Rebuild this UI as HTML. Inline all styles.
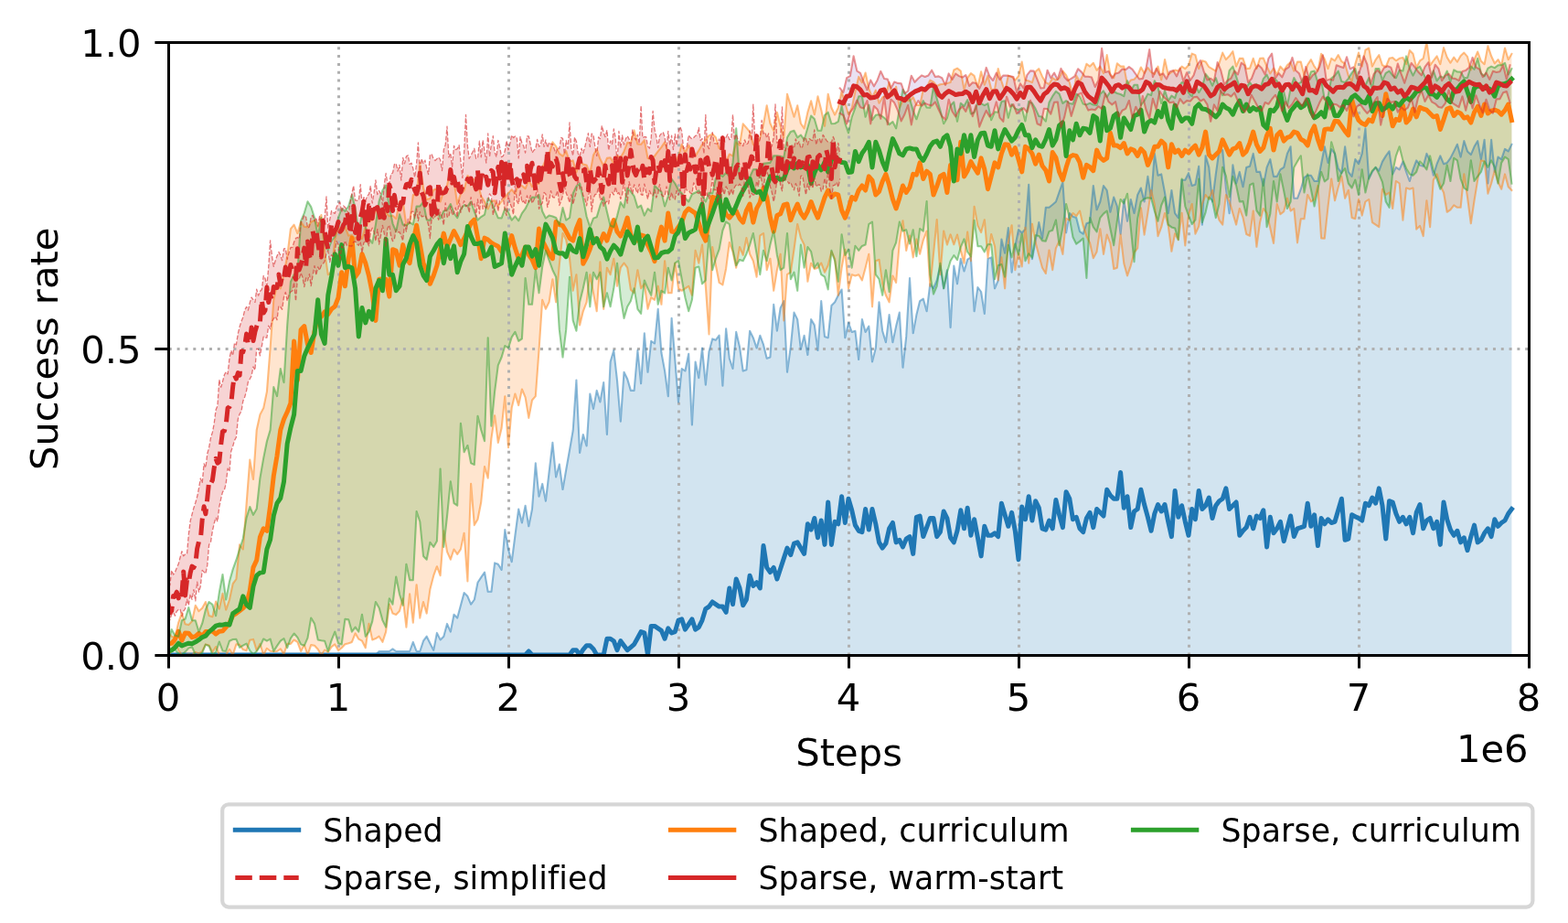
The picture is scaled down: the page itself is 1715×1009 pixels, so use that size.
<!DOCTYPE html>
<html lang="en"><head><meta charset="utf-8"><title>Success rate vs steps</title>
<style>html,body{margin:0;padding:0;background:#fff;}body{width:1715px;height:1009px;overflow:hidden;font-family:"DejaVu Sans","Liberation Sans",sans-serif;}svg{display:block;}</style>
</head><body>
<svg width="1715" height="1009" viewBox="0 0 1715 1009" font-family="'DejaVu Sans', 'Liberation Sans', sans-serif">
<rect width="1715" height="1009" fill="#ffffff"/>
<defs><clipPath id="ax"><rect x="184.0" y="46.0" width="1488.0" height="670.0"/></clipPath></defs>
<g clip-path="url(#ax)">
<polygon points="184.0,716.0 187.7,716.0 191.4,716.0 195.2,716.0 198.9,716.0 202.6,716.0 206.3,716.0 210.0,716.0 213.8,716.0 217.5,716.0 221.2,716.0 224.9,716.0 228.6,716.0 232.4,716.0 236.1,716.0 239.8,716.0 243.5,716.0 247.2,716.0 251.0,716.0 254.7,716.0 258.4,716.0 262.1,716.0 265.8,716.0 269.6,716.0 273.3,716.0 277.0,716.0 280.7,716.0 284.4,716.0 288.2,716.0 291.9,716.0 295.6,716.0 299.3,716.0 303.0,716.0 306.8,716.0 310.5,716.0 314.2,716.0 317.9,716.0 321.6,716.0 325.4,716.0 329.1,716.0 332.8,716.0 336.5,716.0 340.2,716.0 344.0,716.0 347.7,716.0 351.4,716.0 355.1,716.0 358.8,716.0 362.6,716.0 366.3,716.0 370.0,716.0 373.7,716.0 377.4,716.0 381.2,716.0 384.9,716.0 388.6,716.0 392.3,716.0 396.0,716.0 399.8,716.0 403.5,716.0 407.2,716.0 410.9,716.0 414.6,712.0 418.4,712.0 422.1,712.0 425.8,712.0 429.5,709.4 433.2,712.0 437.0,712.0 440.7,712.0 444.4,712.0 448.1,712.0 451.8,701.9 455.6,712.0 459.3,712.0 463.0,700.7 466.7,695.7 470.4,703.2 474.2,710.7 477.9,691.9 481.6,699.4 485.3,695.7 489.0,681.9 492.8,690.6 496.5,671.8 500.2,675.6 503.9,661.8 507.6,648.0 511.4,651.8 515.1,660.6 518.8,655.5 522.5,636.7 526.2,631.1 530.0,625.5 533.7,646.8 537.4,646.8 541.1,615.4 544.8,616.7 548.6,622.9 552.3,579.1 556.0,600.4 559.7,614.2 563.4,585.3 567.2,556.5 570.9,571.5 574.6,552.7 578.3,575.3 582.0,556.5 585.8,506.4 589.5,542.7 593.2,528.9 596.9,547.7 600.6,515.8 604.4,483.8 608.1,521.4 611.8,507.6 615.5,535.0 619.2,513.5 623.0,492.0 626.7,470.5 630.4,415.6 634.1,495.0 637.8,475.0 641.6,487.5 645.3,430.6 649.0,446.9 652.7,426.9 656.4,439.4 660.2,418.1 663.9,475.0 667.6,395.5 671.3,383.0 675.0,415.6 678.8,460.7 682.5,406.8 686.2,414.3 689.9,426.9 693.6,426.9 697.4,383.0 701.1,419.3 704.8,364.2 708.5,406.8 712.2,372.9 716.0,375.5 719.7,337.8 723.4,385.5 727.1,405.5 730.8,433.1 734.6,347.9 738.3,393.0 742.0,439.4 745.7,403.0 749.4,405.5 753.2,386.7 756.9,464.5 760.6,395.5 764.3,413.1 768.0,380.5 771.8,420.6 775.5,384.2 779.2,370.4 782.9,371.7 786.6,366.7 790.4,421.8 794.1,359.2 797.8,391.7 801.5,403.0 805.2,362.9 809.0,379.2 812.7,405.5 816.4,404.3 820.1,361.7 823.8,369.2 827.6,380.5 831.3,366.7 835.0,376.7 838.7,391.7 842.4,390.5 846.2,332.8 849.9,361.7 853.6,336.6 857.3,329.1 861.0,406.8 864.8,379.2 868.5,341.6 872.2,349.1 875.9,381.7 879.6,366.7 883.4,388.0 887.1,349.1 890.8,355.4 894.5,383.0 898.2,329.1 902.0,367.9 905.7,369.2 909.4,334.1 913.1,330.3 916.8,322.8 920.6,316.5 924.3,369.2 928.0,352.9 931.7,362.9 935.4,361.7 939.2,393.0 942.9,349.1 946.6,362.9 950.3,356.6 954.0,395.5 957.8,380.5 961.5,330.3 965.2,361.7 968.9,374.2 972.6,344.1 976.4,374.2 980.1,356.6 983.8,341.6 987.5,401.8 991.2,367.9 995.0,304.0 998.7,364.2 1002.4,344.1 1006.1,329.1 1009.8,326.6 1013.6,340.3 1017.3,310.3 1021.0,315.3 1024.7,306.5 1028.4,290.2 1032.2,315.3 1035.9,295.2 1039.6,357.9 1043.3,290.5 1047.0,310.3 1050.8,282.7 1054.5,296.5 1058.2,283.6 1061.9,281.4 1065.6,340.3 1069.4,314.0 1073.1,319.0 1076.8,342.9 1080.5,282.9 1084.2,281.4 1088.0,315.3 1091.7,306.5 1095.4,261.6 1099.1,276.7 1102.8,249.1 1106.6,297.7 1110.3,269.2 1114.0,251.0 1117.7,254.4 1121.4,250.6 1125.2,201.7 1128.9,283.2 1132.6,263.1 1136.3,243.1 1140.0,260.6 1143.8,226.8 1147.5,226.8 1151.2,223.7 1154.9,220.5 1158.6,209.9 1162.4,199.2 1166.1,254.4 1169.8,233.1 1173.5,236.8 1177.2,238.1 1181.0,253.1 1184.7,255.6 1188.4,244.3 1192.1,243.1 1195.8,203.0 1199.6,229.3 1203.3,220.5 1207.0,203.0 1210.7,208.0 1214.4,231.8 1218.2,215.5 1221.9,225.5 1225.6,255.6 1229.3,218.0 1233.0,241.8 1236.8,218.0 1240.5,233.1 1244.2,213.0 1247.9,205.5 1251.6,220.5 1255.4,192.9 1259.1,216.8 1262.8,167.9 1266.5,191.7 1270.2,190.4 1274.0,210.5 1277.7,233.1 1281.4,208.0 1285.1,233.1 1288.8,238.1 1292.6,196.7 1296.3,196.7 1300.0,189.2 1303.7,203.0 1307.4,201.7 1311.2,181.7 1314.9,245.6 1318.6,170.4 1322.3,182.9 1326.0,220.5 1329.8,190.4 1333.5,164.1 1337.2,164.1 1340.9,205.5 1344.6,233.1 1348.4,180.4 1352.1,200.5 1355.8,187.9 1359.5,204.2 1363.2,182.9 1367.0,181.7 1370.7,167.9 1374.4,187.9 1378.1,187.9 1381.8,203.0 1385.6,182.9 1389.3,174.1 1393.0,192.9 1396.7,192.9 1400.4,185.4 1404.2,182.9 1407.9,167.9 1411.6,160.3 1415.3,216.8 1419.0,216.8 1422.8,206.7 1426.5,194.2 1430.2,191.7 1433.9,191.7 1437.6,198.0 1441.4,198.0 1445.1,179.2 1448.8,160.3 1452.5,177.9 1456.2,162.9 1460.0,167.9 1463.7,184.2 1467.4,189.2 1471.1,160.3 1474.8,187.9 1478.6,192.9 1482.3,174.1 1486.0,179.2 1489.7,167.9 1493.4,140.3 1497.2,195.5 1500.9,187.9 1504.6,182.9 1508.3,186.7 1512.0,176.6 1515.8,170.4 1519.5,165.4 1523.2,190.4 1526.9,182.9 1530.6,185.4 1534.4,176.6 1538.1,187.9 1541.8,198.0 1545.5,185.4 1549.2,175.4 1553.0,180.4 1556.7,181.7 1560.4,167.9 1564.1,175.4 1567.8,191.7 1571.6,179.2 1575.3,170.4 1579.0,179.2 1582.7,177.9 1586.4,172.9 1590.2,165.4 1593.9,157.8 1597.6,171.6 1601.3,154.1 1605.0,165.4 1608.8,169.1 1612.5,160.3 1616.2,154.1 1619.9,174.1 1623.6,152.8 1627.4,200.5 1631.1,152.8 1634.8,187.9 1638.5,171.6 1642.2,174.1 1646.0,162.9 1649.7,165.4 1653.4,157.8 1653.4,716.0 1649.7,716.0 1646.0,716.0 1642.2,716.0 1638.5,716.0 1634.8,716.0 1631.1,716.0 1627.4,716.0 1623.6,716.0 1619.9,716.0 1616.2,716.0 1612.5,716.0 1608.8,716.0 1605.0,716.0 1601.3,716.0 1597.6,716.0 1593.9,716.0 1590.2,716.0 1586.4,716.0 1582.7,716.0 1579.0,716.0 1575.3,716.0 1571.6,716.0 1567.8,716.0 1564.1,716.0 1560.4,716.0 1556.7,716.0 1553.0,716.0 1549.2,716.0 1545.5,716.0 1541.8,716.0 1538.1,716.0 1534.4,716.0 1530.6,716.0 1526.9,716.0 1523.2,716.0 1519.5,716.0 1515.8,716.0 1512.0,716.0 1508.3,716.0 1504.6,716.0 1500.9,716.0 1497.2,716.0 1493.4,716.0 1489.7,716.0 1486.0,716.0 1482.3,716.0 1478.6,716.0 1474.8,716.0 1471.1,716.0 1467.4,716.0 1463.7,716.0 1460.0,716.0 1456.2,716.0 1452.5,716.0 1448.8,716.0 1445.1,716.0 1441.4,716.0 1437.6,716.0 1433.9,716.0 1430.2,716.0 1426.5,716.0 1422.8,716.0 1419.0,716.0 1415.3,716.0 1411.6,716.0 1407.9,716.0 1404.2,716.0 1400.4,716.0 1396.7,716.0 1393.0,716.0 1389.3,716.0 1385.6,716.0 1381.8,716.0 1378.1,716.0 1374.4,716.0 1370.7,716.0 1367.0,716.0 1363.2,716.0 1359.5,716.0 1355.8,716.0 1352.1,716.0 1348.4,716.0 1344.6,716.0 1340.9,716.0 1337.2,716.0 1333.5,716.0 1329.8,716.0 1326.0,716.0 1322.3,716.0 1318.6,716.0 1314.9,716.0 1311.2,716.0 1307.4,716.0 1303.7,716.0 1300.0,716.0 1296.3,716.0 1292.6,716.0 1288.8,716.0 1285.1,716.0 1281.4,716.0 1277.7,716.0 1274.0,716.0 1270.2,716.0 1266.5,716.0 1262.8,716.0 1259.1,716.0 1255.4,716.0 1251.6,716.0 1247.9,716.0 1244.2,716.0 1240.5,716.0 1236.8,716.0 1233.0,716.0 1229.3,716.0 1225.6,716.0 1221.9,716.0 1218.2,716.0 1214.4,716.0 1210.7,716.0 1207.0,716.0 1203.3,716.0 1199.6,716.0 1195.8,716.0 1192.1,716.0 1188.4,716.0 1184.7,716.0 1181.0,716.0 1177.2,716.0 1173.5,716.0 1169.8,716.0 1166.1,716.0 1162.4,716.0 1158.6,716.0 1154.9,716.0 1151.2,716.0 1147.5,716.0 1143.8,716.0 1140.0,716.0 1136.3,716.0 1132.6,716.0 1128.9,716.0 1125.2,716.0 1121.4,716.0 1117.7,716.0 1114.0,716.0 1110.3,716.0 1106.6,716.0 1102.8,716.0 1099.1,716.0 1095.4,716.0 1091.7,716.0 1088.0,716.0 1084.2,716.0 1080.5,716.0 1076.8,716.0 1073.1,716.0 1069.4,716.0 1065.6,716.0 1061.9,716.0 1058.2,716.0 1054.5,716.0 1050.8,716.0 1047.0,716.0 1043.3,716.0 1039.6,716.0 1035.9,716.0 1032.2,716.0 1028.4,716.0 1024.7,716.0 1021.0,716.0 1017.3,716.0 1013.6,716.0 1009.8,716.0 1006.1,716.0 1002.4,716.0 998.7,716.0 995.0,716.0 991.2,716.0 987.5,716.0 983.8,716.0 980.1,716.0 976.4,716.0 972.6,716.0 968.9,716.0 965.2,716.0 961.5,716.0 957.8,716.0 954.0,716.0 950.3,716.0 946.6,716.0 942.9,716.0 939.2,716.0 935.4,716.0 931.7,716.0 928.0,716.0 924.3,716.0 920.6,716.0 916.8,716.0 913.1,716.0 909.4,716.0 905.7,716.0 902.0,716.0 898.2,716.0 894.5,716.0 890.8,716.0 887.1,716.0 883.4,716.0 879.6,716.0 875.9,716.0 872.2,716.0 868.5,716.0 864.8,716.0 861.0,716.0 857.3,716.0 853.6,716.0 849.9,716.0 846.2,716.0 842.4,716.0 838.7,716.0 835.0,716.0 831.3,716.0 827.6,716.0 823.8,716.0 820.1,716.0 816.4,716.0 812.7,716.0 809.0,716.0 805.2,716.0 801.5,716.0 797.8,716.0 794.1,716.0 790.4,716.0 786.6,716.0 782.9,716.0 779.2,716.0 775.5,716.0 771.8,716.0 768.0,716.0 764.3,716.0 760.6,716.0 756.9,716.0 753.2,716.0 749.4,716.0 745.7,716.0 742.0,716.0 738.3,716.0 734.6,716.0 730.8,716.0 727.1,716.0 723.4,716.0 719.7,716.0 716.0,716.0 712.2,716.0 708.5,716.0 704.8,716.0 701.1,716.0 697.4,716.0 693.6,716.0 689.9,716.0 686.2,716.0 682.5,716.0 678.8,716.0 675.0,716.0 671.3,716.0 667.6,716.0 663.9,716.0 660.2,716.0 656.4,716.0 652.7,716.0 649.0,716.0 645.3,716.0 641.6,716.0 637.8,716.0 634.1,716.0 630.4,716.0 626.7,716.0 623.0,716.0 619.2,716.0 615.5,716.0 611.8,716.0 608.1,716.0 604.4,716.0 600.6,716.0 596.9,716.0 593.2,716.0 589.5,716.0 585.8,716.0 582.0,716.0 578.3,716.0 574.6,716.0 570.9,716.0 567.2,716.0 563.4,716.0 559.7,716.0 556.0,716.0 552.3,716.0 548.6,716.0 544.8,716.0 541.1,716.0 537.4,716.0 533.7,716.0 530.0,716.0 526.2,716.0 522.5,716.0 518.8,716.0 515.1,716.0 511.4,716.0 507.6,716.0 503.9,716.0 500.2,716.0 496.5,716.0 492.8,716.0 489.0,716.0 485.3,716.0 481.6,716.0 477.9,716.0 474.2,716.0 470.4,716.0 466.7,716.0 463.0,716.0 459.3,716.0 455.6,716.0 451.8,716.0 448.1,716.0 444.4,716.0 440.7,716.0 437.0,716.0 433.2,716.0 429.5,716.0 425.8,716.0 422.1,716.0 418.4,716.0 414.6,716.0 410.9,716.0 407.2,716.0 403.5,716.0 399.8,716.0 396.0,716.0 392.3,716.0 388.6,716.0 384.9,716.0 381.2,716.0 377.4,716.0 373.7,716.0 370.0,716.0 366.3,716.0 362.6,716.0 358.8,716.0 355.1,716.0 351.4,716.0 347.7,716.0 344.0,716.0 340.2,716.0 336.5,716.0 332.8,716.0 329.1,716.0 325.4,716.0 321.6,716.0 317.9,716.0 314.2,716.0 310.5,716.0 306.8,716.0 303.0,716.0 299.3,716.0 295.6,716.0 291.9,716.0 288.2,716.0 284.4,716.0 280.7,716.0 277.0,716.0 273.3,716.0 269.6,716.0 265.8,716.0 262.1,716.0 258.4,716.0 254.7,716.0 251.0,716.0 247.2,716.0 243.5,716.0 239.8,716.0 236.1,716.0 232.4,716.0 228.6,716.0 224.9,716.0 221.2,716.0 217.5,716.0 213.8,716.0 210.0,716.0 206.3,716.0 202.6,716.0 198.9,716.0 195.2,716.0 191.4,716.0 187.7,716.0 184.0,716.0" fill="#1f77b4" fill-opacity="0.2"/>
<polygon points="184.0,691.1 187.7,695.7 191.4,697.1 195.2,680.6 198.9,670.0 202.6,682.2 206.3,683.1 210.0,679.1 213.8,661.8 217.5,668.1 221.2,664.7 224.9,658.0 228.6,673.1 232.4,674.2 236.1,657.6 239.8,665.6 243.5,648.8 247.2,666.6 251.0,655.5 254.7,638.1 258.4,633.0 262.1,595.4 265.8,600.4 269.6,550.7 273.3,502.6 277.0,523.9 280.7,470.0 284.4,453.2 288.2,446.1 291.9,428.1 295.6,380.5 299.3,327.8 303.0,311.2 306.8,315.3 310.5,299.0 314.2,280.2 317.9,250.1 321.6,245.7 325.4,255.1 329.1,242.6 332.8,247.8 336.5,248.5 340.2,242.6 344.0,240.8 347.7,247.6 351.4,235.0 355.1,275.2 358.8,300.2 362.6,297.1 366.3,261.6 370.0,247.6 373.7,254.1 377.4,247.6 381.2,257.6 384.9,256.9 388.6,261.4 392.3,255.1 396.0,260.9 399.8,247.6 403.5,242.2 407.2,240.3 410.9,227.8 414.6,236.8 418.4,232.1 422.1,232.3 425.8,236.2 429.5,235.6 433.2,239.1 437.0,220.1 440.7,220.5 444.4,246.2 448.1,243.1 451.8,213.1 455.6,212.6 459.3,177.9 463.0,205.4 466.7,218.0 470.4,216.9 474.2,207.5 477.9,206.5 481.6,220.5 485.3,208.3 489.0,202.7 492.8,185.4 496.5,197.0 500.2,223.0 503.9,211.9 507.6,208.2 511.4,192.0 515.1,195.5 518.8,196.3 522.5,199.6 526.2,214.2 530.0,220.5 533.7,228.4 537.4,219.9 541.1,219.2 544.8,225.1 548.6,220.0 552.3,215.5 556.0,211.1 559.7,207.1 563.4,211.8 567.2,200.5 570.9,203.0 574.6,206.1 578.3,196.7 582.0,204.0 585.8,200.5 589.5,200.9 593.2,183.0 596.9,174.7 600.6,168.6 604.4,155.3 608.1,159.8 611.8,167.9 615.5,170.6 619.2,165.2 623.0,176.6 626.7,175.4 630.4,188.2 634.1,176.7 637.8,179.5 641.6,180.4 645.3,189.6 649.0,169.5 652.7,162.9 656.4,173.8 660.2,181.3 663.9,172.9 667.6,172.3 671.3,178.4 675.0,170.3 678.8,172.2 682.5,165.4 686.2,155.9 689.9,156.3 693.6,142.4 697.4,157.5 701.1,157.8 704.8,153.2 708.5,172.7 712.2,174.2 716.0,170.4 719.7,165.3 723.4,160.9 727.1,155.3 730.8,165.9 734.6,180.4 738.3,177.2 742.0,170.9 745.7,157.8 749.4,166.8 753.2,158.7 756.9,166.1 760.6,170.4 764.3,164.4 768.0,157.8 771.8,152.8 775.5,148.1 779.2,146.6 782.9,150.3 786.6,162.1 790.4,160.3 794.1,177.0 797.8,168.5 801.5,170.4 805.2,155.6 809.0,158.6 812.7,135.3 816.4,139.7 820.1,144.2 823.8,157.8 827.6,161.1 831.3,150.3 835.0,135.8 838.7,115.2 842.4,134.8 846.2,142.8 849.9,122.7 853.6,137.7 857.3,150.3 861.0,102.7 864.8,115.4 868.5,127.8 872.2,115.2 875.9,135.0 879.6,140.3 883.4,122.6 887.1,110.2 890.8,125.2 894.5,105.2 898.2,119.9 902.0,137.8 905.7,102.7 909.4,117.7 913.1,125.5 916.8,117.7 920.6,100.2 924.3,112.4 928.0,125.2 931.7,117.7 935.4,100.2 939.2,83.9 942.9,90.1 946.6,79.5 950.3,96.8 954.0,106.4 957.8,98.6 961.5,112.7 965.2,106.5 968.9,103.8 972.6,90.1 976.4,104.6 980.1,94.7 983.8,117.5 987.5,110.2 991.2,109.8 995.0,110.3 998.7,106.2 1002.4,114.8 1006.1,115.2 1009.8,97.7 1013.6,95.6 1017.3,87.6 1021.0,89.6 1024.7,94.0 1028.4,92.3 1032.2,91.7 1035.9,91.1 1039.6,90.1 1043.3,76.5 1047.0,74.6 1050.8,77.6 1054.5,97.7 1058.2,85.1 1061.9,80.1 1065.6,82.9 1069.4,95.2 1073.1,78.2 1076.8,92.7 1080.5,82.6 1084.2,97.6 1088.0,97.7 1091.7,75.1 1095.4,88.8 1099.1,100.2 1102.8,82.6 1106.6,84.1 1110.3,87.6 1114.0,83.3 1117.7,67.6 1121.4,87.6 1125.2,88.5 1128.9,90.1 1132.6,78.2 1136.3,75.1 1140.0,83.7 1143.8,90.1 1147.5,92.2 1151.2,85.1 1154.9,87.6 1158.6,85.4 1162.4,77.6 1166.1,82.1 1169.8,90.1 1173.5,106.0 1177.2,82.6 1181.0,89.2 1184.7,81.4 1188.4,69.7 1192.1,72.6 1195.8,68.8 1199.6,76.7 1203.3,72.6 1207.0,80.1 1210.7,60.1 1214.4,81.4 1218.2,85.2 1221.9,69.2 1225.6,72.6 1229.3,72.6 1233.0,92.6 1236.8,87.6 1240.5,86.7 1244.2,82.6 1247.9,73.5 1251.6,80.1 1255.4,73.8 1259.1,78.9 1262.8,80.9 1266.5,72.6 1270.2,87.2 1274.0,65.1 1277.7,81.3 1281.4,78.9 1285.1,76.5 1288.8,77.6 1292.6,72.6 1296.3,75.1 1300.0,71.3 1303.7,58.6 1307.4,60.1 1311.2,75.1 1314.9,66.3 1318.6,67.4 1322.3,73.2 1326.0,75.3 1329.8,77.6 1333.5,69.0 1337.2,57.6 1340.9,65.1 1344.6,61.3 1348.4,56.2 1352.1,72.6 1355.8,63.8 1359.5,63.9 1363.2,75.1 1367.0,74.6 1370.7,63.8 1374.4,75.1 1378.1,63.8 1381.8,63.5 1385.6,72.6 1389.3,80.3 1393.0,74.5 1396.7,81.4 1400.4,72.6 1404.2,77.0 1407.9,71.3 1411.6,68.0 1415.3,77.6 1419.0,67.6 1422.8,67.6 1426.5,82.6 1430.2,70.7 1433.9,65.1 1437.6,72.7 1441.4,77.6 1445.1,58.8 1448.8,64.6 1452.5,75.1 1456.2,63.8 1460.0,66.3 1463.7,60.1 1467.4,67.2 1471.1,69.5 1474.8,82.6 1478.6,88.8 1482.3,70.1 1486.0,57.6 1489.7,72.6 1493.4,54.6 1497.2,52.5 1500.9,72.6 1504.6,65.3 1508.3,60.1 1512.0,71.3 1515.8,73.0 1519.5,63.8 1523.2,62.9 1526.9,66.3 1530.6,63.8 1534.4,62.9 1538.1,70.1 1541.8,55.0 1545.5,58.8 1549.2,73.8 1553.0,66.4 1556.7,63.8 1560.4,46.0 1564.1,71.3 1567.8,66.3 1571.6,61.4 1575.3,70.1 1579.0,52.1 1582.7,62.6 1586.4,68.6 1590.2,62.6 1593.9,67.6 1597.6,61.1 1601.3,57.6 1605.0,61.9 1608.8,76.4 1612.5,65.1 1616.2,56.5 1619.9,66.8 1623.6,70.1 1627.4,50.2 1631.1,61.3 1634.8,69.3 1638.5,65.1 1642.2,71.4 1646.0,52.5 1649.7,65.1 1653.4,58.8 1653.4,208.0 1649.7,204.2 1646.0,190.4 1642.2,206.7 1638.5,199.2 1634.8,186.7 1631.1,200.5 1627.4,211.7 1623.6,176.6 1619.9,175.4 1616.2,196.7 1612.5,219.3 1608.8,244.3 1605.0,215.5 1601.3,190.4 1597.6,226.8 1593.9,226.8 1590.2,224.3 1586.4,229.3 1582.7,231.8 1579.0,210.5 1575.3,203.0 1571.6,190.4 1567.8,196.7 1564.1,248.1 1560.4,219.3 1556.7,258.1 1553.0,246.9 1549.2,250.6 1545.5,205.5 1541.8,206.7 1538.1,205.5 1534.4,240.6 1530.6,200.5 1526.9,198.0 1523.2,228.0 1519.5,210.5 1515.8,213.0 1512.0,206.7 1508.3,248.1 1504.6,245.6 1500.9,243.1 1497.2,218.0 1493.4,220.5 1489.7,235.6 1486.0,218.0 1482.3,239.3 1478.6,238.1 1474.8,208.0 1471.1,216.8 1467.4,192.9 1463.7,204.7 1460.0,219.3 1456.2,195.5 1452.5,226.1 1448.8,260.6 1445.1,260.4 1441.4,203.0 1437.6,218.0 1433.9,220.4 1430.2,213.0 1426.5,239.3 1422.8,239.3 1419.0,265.4 1415.3,228.0 1411.6,230.6 1407.9,216.8 1404.2,231.2 1400.4,234.3 1396.7,223.0 1393.0,266.0 1389.3,249.6 1385.6,233.1 1381.8,228.0 1378.1,243.0 1374.4,269.8 1370.7,230.6 1367.0,257.8 1363.2,256.0 1359.5,238.0 1355.8,228.0 1352.1,245.6 1348.4,233.1 1344.6,220.3 1340.9,213.0 1337.2,245.6 1333.5,240.6 1329.8,228.9 1326.0,208.0 1322.3,218.0 1318.6,213.0 1314.9,223.0 1311.2,247.5 1307.4,255.6 1303.7,223.0 1300.0,235.3 1296.3,268.5 1292.6,232.8 1288.8,262.3 1285.1,255.4 1281.4,274.8 1277.7,246.3 1274.0,233.1 1270.2,248.4 1266.5,258.1 1262.8,223.5 1259.1,208.0 1255.4,232.8 1251.6,256.6 1247.9,227.2 1244.2,271.4 1240.5,276.0 1236.8,290.3 1233.0,301.5 1229.3,288.0 1225.6,256.6 1221.9,292.7 1218.2,294.0 1214.4,266.1 1210.7,256.6 1207.0,277.9 1203.3,250.3 1199.6,275.2 1195.8,282.3 1192.1,265.7 1188.4,258.1 1184.7,246.9 1181.0,230.6 1177.2,236.3 1173.5,233.1 1169.8,240.9 1166.1,238.8 1162.4,277.9 1158.6,263.5 1154.9,271.4 1151.2,295.2 1147.5,273.5 1143.8,299.0 1140.0,292.7 1136.3,279.2 1132.6,265.1 1128.9,244.7 1125.2,287.7 1121.4,248.8 1117.7,291.5 1114.0,276.7 1110.3,295.2 1106.6,246.3 1102.8,265.4 1099.1,315.3 1095.4,281.4 1091.7,306.5 1088.0,269.2 1084.2,256.0 1080.5,281.7 1076.8,240.3 1073.1,254.1 1069.4,246.6 1065.6,225.9 1061.9,285.2 1058.2,253.5 1054.5,287.7 1050.8,273.9 1047.0,256.6 1043.3,267.3 1039.6,256.4 1035.9,267.6 1032.2,252.6 1028.4,300.2 1024.7,240.1 1021.0,277.7 1017.3,312.8 1013.6,252.6 1009.8,262.6 1006.1,277.7 1002.4,261.4 998.7,281.4 995.0,257.6 991.2,273.9 987.5,241.3 983.8,265.1 980.1,309.0 976.4,301.5 972.6,330.3 968.9,322.8 965.2,310.3 961.5,283.9 957.8,285.2 954.0,335.3 950.3,277.7 946.6,292.7 942.9,306.5 939.2,300.2 935.4,301.5 931.7,300.2 928.0,315.3 924.3,272.7 920.6,292.7 916.8,322.8 913.1,282.7 909.4,275.2 905.7,290.2 902.0,297.7 898.2,287.7 894.5,292.7 890.8,294.0 887.1,287.7 883.4,307.8 879.6,267.6 875.9,260.1 872.2,245.1 868.5,272.7 864.8,297.7 861.0,300.2 857.3,350.4 853.6,277.7 849.9,295.2 846.2,317.8 842.4,282.7 838.7,295.2 835.0,255.1 831.3,257.6 827.6,302.7 823.8,285.2 820.1,277.7 816.4,260.1 812.7,278.9 809.0,270.1 805.2,292.7 801.5,275.2 797.8,265.1 794.1,293.7 790.4,311.5 786.6,309.0 782.9,290.2 779.2,270.1 775.5,365.4 771.8,312.8 768.0,267.6 764.3,287.7 760.6,273.9 756.9,322.8 753.2,312.8 749.4,315.3 745.7,317.8 742.0,315.3 738.3,287.7 734.6,320.3 730.8,320.3 727.1,285.2 723.4,332.8 719.7,312.8 716.0,327.8 712.2,325.3 708.5,337.8 704.8,310.3 701.1,315.3 697.4,295.2 693.6,320.3 689.9,316.8 686.2,292.7 682.5,287.7 678.8,292.7 675.0,312.8 671.3,282.7 667.6,300.2 663.9,292.7 660.2,337.8 656.4,286.4 652.7,340.3 649.0,320.3 645.3,300.2 641.6,330.3 637.8,340.3 634.1,355.4 630.4,300.2 626.7,317.8 623.0,282.7 619.2,262.2 615.5,255.1 611.8,289.7 608.1,330.3 604.4,305.2 600.6,330.3 596.9,337.8 593.2,327.8 589.5,383.0 585.8,433.1 582.0,437.5 578.3,456.9 574.6,434.4 570.9,425.5 567.2,443.1 563.4,430.6 559.7,445.7 556.0,489.2 552.3,433.2 548.6,468.0 544.8,483.9 541.1,454.2 537.4,479.4 533.7,522.7 530.0,510.1 526.2,549.0 522.5,567.7 518.8,574.1 515.1,528.9 511.4,635.5 507.6,582.8 503.9,600.4 500.2,605.8 496.5,600.5 492.8,611.7 489.0,603.1 485.3,580.3 481.6,629.2 477.9,619.2 474.2,629.4 470.4,644.3 466.7,670.6 463.0,658.0 459.3,675.6 455.6,639.2 451.8,680.6 448.1,649.3 444.4,685.6 440.7,654.3 437.0,668.1 433.2,671.9 429.5,670.6 425.8,660.6 422.1,690.6 418.4,701.8 414.6,695.7 410.9,698.1 407.2,699.4 403.5,681.9 399.8,708.2 396.0,700.7 392.3,698.7 388.6,692.4 384.9,701.9 381.2,703.2 377.4,704.2 373.7,708.2 370.0,711.1 366.3,704.4 362.6,707.1 358.8,712.8 355.1,710.7 351.4,716.0 347.7,709.7 344.0,705.7 340.2,705.1 336.5,716.0 332.8,705.2 329.1,712.0 325.4,701.9 321.6,699.5 317.9,703.9 314.2,703.8 310.5,715.1 306.8,709.4 303.0,712.0 299.3,712.2 295.6,711.7 291.9,708.8 288.2,716.0 284.4,703.9 280.7,711.3 277.0,698.9 273.3,699.8 269.6,711.2 265.8,710.1 262.1,704.8 258.4,704.4 254.7,716.0 251.0,709.9 247.2,716.0 243.5,716.0 239.8,716.0 236.1,707.0 232.4,712.9 228.6,705.6 224.9,704.4 221.2,712.0 217.5,714.4 213.8,712.9 210.0,716.0 206.3,715.3 202.6,716.0 198.9,716.0 195.2,710.9 191.4,701.1 187.7,712.0 184.0,716.0" fill="#ff7f0e" fill-opacity="0.2"/>
<polygon points="184.0,702.4 187.7,688.1 191.4,694.8 195.2,695.7 198.9,678.1 202.6,676.6 206.3,664.0 210.0,678.1 213.8,678.3 217.5,690.6 221.2,681.4 224.9,666.4 228.6,658.0 232.4,660.9 236.1,673.1 239.8,647.8 243.5,628.0 247.2,655.5 251.0,635.5 254.7,622.4 258.4,612.2 262.1,600.4 265.8,588.7 269.6,565.9 273.3,554.0 277.0,562.8 280.7,556.3 284.4,522.7 288.2,500.9 291.9,482.5 295.6,470.0 299.3,423.1 303.0,433.1 306.8,403.0 310.5,418.1 314.2,355.4 317.9,308.0 321.6,300.2 325.4,297.7 329.1,241.6 332.8,232.9 336.5,220.3 340.2,226.1 344.0,238.1 347.7,258.1 351.4,238.1 355.1,265.5 358.8,273.2 362.6,263.3 366.3,258.4 370.0,237.9 373.7,228.0 377.4,230.9 381.2,225.5 384.9,213.0 388.6,227.6 392.3,253.1 396.0,233.2 399.8,248.1 403.5,260.3 407.2,265.7 410.9,245.6 414.6,220.0 418.4,208.0 422.1,202.5 425.8,225.5 429.5,244.3 433.2,253.1 437.0,234.3 440.7,245.6 444.4,246.6 448.1,243.1 451.8,245.4 455.6,225.5 459.3,225.5 463.0,220.5 466.7,240.4 470.4,240.6 474.2,231.7 477.9,228.0 481.6,238.6 485.3,230.8 489.0,229.6 492.8,223.0 496.5,233.0 500.2,238.1 503.9,228.3 507.6,224.1 511.4,225.5 515.1,220.3 518.8,231.4 522.5,240.6 526.2,237.1 530.0,234.6 533.7,216.8 537.4,220.5 541.1,229.3 544.8,238.1 548.6,238.4 552.3,228.0 556.0,232.1 559.7,240.6 563.4,236.4 567.2,241.3 570.9,233.1 574.6,228.2 578.3,220.6 582.0,215.5 585.8,215.8 589.5,213.0 593.2,231.0 596.9,238.5 600.6,235.6 604.4,236.5 608.1,238.0 611.8,245.6 615.5,227.1 619.2,240.6 623.0,238.0 626.7,211.4 630.4,203.6 634.1,200.5 637.8,216.6 641.6,236.7 645.3,248.1 649.0,238.6 652.7,237.2 656.4,224.7 660.2,215.5 663.9,231.6 667.6,246.8 671.3,248.1 675.0,236.1 678.8,221.1 682.5,226.7 686.2,205.5 689.9,209.4 693.6,214.3 697.4,226.9 701.1,224.6 704.8,235.6 708.5,228.1 712.2,231.1 716.0,203.0 719.7,206.6 723.4,209.8 727.1,225.5 730.8,214.2 734.6,195.5 738.3,200.5 742.0,207.8 745.7,211.3 749.4,216.5 753.2,220.5 756.9,212.3 760.6,210.5 764.3,208.4 768.0,213.8 771.8,220.5 775.5,210.7 779.2,211.5 782.9,195.1 786.6,190.4 790.4,193.0 794.1,188.7 797.8,192.9 801.5,177.9 805.2,140.3 809.0,195.5 812.7,193.9 816.4,196.3 820.1,193.5 823.8,185.4 827.6,185.0 831.3,193.7 835.0,178.9 838.7,178.4 842.4,177.9 846.2,170.3 849.9,170.4 853.6,170.8 857.3,172.2 861.0,150.3 864.8,143.9 868.5,142.8 872.2,150.3 875.9,147.5 879.6,152.8 883.4,139.5 887.1,126.5 890.8,130.0 894.5,142.8 898.2,142.8 902.0,126.0 905.7,122.7 909.4,135.3 913.1,135.0 916.8,132.8 920.6,115.2 924.3,134.6 928.0,145.3 931.7,127.8 935.4,117.8 939.2,105.2 942.9,105.2 946.6,127.8 950.3,114.8 954.0,131.1 957.8,125.8 961.5,125.2 965.2,127.3 968.9,130.3 972.6,136.1 976.4,133.0 980.1,140.3 983.8,119.3 987.5,97.7 991.2,104.5 995.0,108.1 998.7,120.8 1002.4,130.3 1006.1,119.1 1009.8,110.2 1013.6,117.4 1017.3,117.8 1021.0,94.7 1024.7,107.7 1028.4,120.6 1032.2,135.3 1035.9,129.0 1039.6,115.2 1043.3,111.6 1047.0,132.8 1050.8,112.7 1054.5,116.0 1058.2,109.1 1061.9,124.5 1065.6,122.7 1069.4,112.2 1073.1,113.1 1076.8,115.2 1080.5,113.1 1084.2,131.2 1088.0,122.3 1091.7,122.7 1095.4,111.0 1099.1,110.2 1102.8,128.8 1106.6,114.0 1110.3,118.6 1114.0,120.2 1117.7,118.1 1121.4,132.4 1125.2,110.9 1128.9,112.7 1132.6,118.8 1136.3,127.1 1140.0,127.8 1143.8,132.6 1147.5,111.9 1151.2,105.2 1154.9,99.9 1158.6,102.6 1162.4,112.9 1166.1,110.2 1169.8,113.0 1173.5,113.7 1177.2,102.7 1181.0,105.4 1184.7,113.6 1188.4,114.4 1192.1,112.7 1195.8,114.5 1199.6,115.0 1203.3,102.7 1207.0,99.4 1210.7,106.0 1214.4,100.2 1218.2,100.0 1221.9,102.0 1225.6,103.0 1229.3,105.2 1233.0,88.2 1236.8,99.4 1240.5,92.7 1244.2,92.8 1247.9,114.8 1251.6,110.2 1255.4,102.6 1259.1,104.1 1262.8,88.2 1266.5,95.2 1270.2,113.0 1274.0,98.9 1277.7,110.2 1281.4,104.6 1285.1,107.1 1288.8,95.5 1292.6,90.1 1296.3,91.2 1300.0,101.5 1303.7,105.2 1307.4,92.4 1311.2,101.1 1314.9,95.2 1318.6,80.8 1322.3,85.4 1326.0,93.7 1329.8,85.1 1333.5,95.9 1337.2,104.2 1340.9,97.7 1344.6,77.2 1348.4,72.6 1352.1,83.7 1355.8,95.2 1359.5,95.4 1363.2,95.6 1367.0,90.1 1370.7,94.8 1374.4,91.9 1378.1,97.7 1381.8,86.1 1385.6,81.6 1389.3,90.1 1393.0,84.9 1396.7,88.4 1400.4,99.4 1404.2,100.2 1407.9,115.6 1411.6,96.6 1415.3,85.1 1419.0,91.8 1422.8,90.1 1426.5,84.1 1430.2,90.1 1433.9,78.5 1437.6,77.6 1441.4,90.1 1445.1,87.1 1448.8,108.7 1452.5,105.2 1456.2,85.6 1460.0,82.6 1463.7,77.6 1467.4,89.1 1471.1,90.1 1474.8,85.9 1478.6,79.6 1482.3,75.1 1486.0,89.8 1489.7,92.7 1493.4,93.2 1497.2,85.1 1500.9,96.4 1504.6,75.1 1508.3,75.0 1512.0,87.6 1515.8,79.8 1519.5,77.6 1523.2,82.3 1526.9,85.1 1530.6,76.8 1534.4,77.6 1538.1,61.4 1541.8,74.7 1545.5,82.6 1549.2,75.1 1553.0,72.7 1556.7,80.1 1560.4,87.9 1564.1,87.6 1567.8,77.3 1571.6,88.3 1575.3,83.4 1579.0,84.9 1582.7,77.6 1586.4,89.1 1590.2,76.4 1593.9,78.5 1597.6,78.6 1601.3,85.1 1605.0,84.9 1608.8,72.6 1612.5,75.8 1616.2,63.8 1619.9,80.1 1623.6,83.3 1627.4,74.7 1631.1,72.6 1634.8,74.1 1638.5,71.3 1642.2,71.2 1646.0,68.8 1649.7,81.4 1653.4,75.1 1653.4,200.5 1649.7,174.1 1646.0,171.6 1642.2,177.9 1638.5,200.5 1634.8,182.9 1631.1,175.4 1627.4,182.9 1623.6,176.6 1619.9,187.9 1616.2,192.9 1612.5,198.0 1608.8,175.4 1605.0,208.0 1601.3,205.5 1597.6,195.5 1593.9,175.4 1590.2,172.9 1586.4,198.0 1582.7,180.4 1579.0,200.5 1575.3,206.7 1571.6,195.5 1567.8,186.7 1564.1,170.4 1560.4,185.4 1556.7,180.4 1553.0,176.6 1549.2,187.9 1545.5,191.7 1541.8,190.4 1538.1,184.2 1534.4,175.4 1530.6,160.3 1526.9,170.4 1523.2,187.9 1519.5,226.8 1515.8,220.5 1512.0,199.2 1508.3,190.4 1504.6,182.9 1500.9,186.7 1497.2,194.2 1493.4,210.5 1489.7,185.4 1486.0,213.0 1482.3,196.7 1478.6,205.5 1474.8,200.5 1471.1,184.2 1467.4,188.8 1463.7,198.0 1460.0,168.4 1456.2,155.3 1452.5,195.5 1448.8,198.5 1445.1,187.9 1441.4,207.0 1437.6,225.5 1433.9,207.0 1430.2,190.4 1426.5,210.5 1422.8,170.4 1419.0,176.4 1415.3,182.9 1411.6,220.5 1407.9,228.0 1404.2,208.8 1400.4,190.4 1396.7,220.5 1393.0,198.0 1389.3,233.7 1385.6,248.1 1381.8,195.5 1378.1,235.6 1374.4,230.1 1370.7,200.5 1367.0,202.3 1363.2,235.6 1359.5,220.1 1355.8,220.5 1352.1,202.9 1348.4,192.9 1344.6,215.5 1340.9,192.3 1337.2,182.9 1333.5,223.0 1329.8,238.1 1326.0,219.3 1322.3,215.5 1318.6,232.1 1314.9,243.1 1311.2,195.5 1307.4,240.3 1303.7,245.1 1300.0,235.6 1296.3,225.5 1292.6,195.5 1288.8,261.9 1285.1,249.4 1281.4,248.4 1277.7,245.6 1274.0,215.5 1270.2,224.5 1266.5,241.8 1262.8,230.6 1259.1,216.8 1255.4,216.3 1251.6,217.3 1247.9,220.5 1244.2,239.2 1240.5,286.1 1236.8,249.4 1233.0,211.7 1229.3,222.5 1225.6,218.0 1221.9,241.4 1218.2,268.2 1214.4,250.0 1210.7,230.6 1207.0,233.6 1203.3,238.1 1199.6,253.5 1195.8,248.1 1192.1,238.1 1188.4,304.0 1184.7,260.6 1181.0,263.9 1177.2,266.7 1173.5,259.3 1169.8,238.1 1166.1,223.0 1162.4,248.6 1158.6,268.2 1154.9,240.6 1151.2,251.7 1147.5,253.1 1143.8,263.7 1140.0,263.1 1136.3,257.9 1132.6,257.2 1128.9,281.7 1125.2,277.3 1121.4,285.2 1117.7,256.0 1114.0,278.6 1110.3,266.6 1106.6,281.4 1102.8,267.9 1099.1,302.7 1095.4,289.0 1091.7,290.2 1088.0,305.2 1084.2,267.3 1080.5,267.3 1076.8,275.4 1073.1,269.2 1069.4,269.2 1065.6,240.9 1061.9,280.4 1058.2,275.4 1054.5,261.4 1050.8,270.1 1047.0,284.2 1043.3,279.2 1039.6,285.2 1035.9,297.7 1032.2,315.3 1028.4,287.7 1024.7,312.8 1021.0,321.5 1017.3,300.2 1013.6,220.0 1009.8,252.6 1006.1,250.1 1002.4,280.2 998.7,251.3 995.0,266.4 991.2,251.3 987.5,252.6 983.8,242.6 980.1,265.1 976.4,273.9 972.6,319.0 968.9,295.2 965.2,322.8 961.5,305.2 957.8,300.2 954.0,242.6 950.3,245.1 946.6,267.6 942.9,268.9 939.2,273.9 935.4,268.9 931.7,292.7 928.0,272.7 924.3,278.9 920.6,256.4 916.8,307.8 913.1,285.2 909.4,273.9 905.7,316.5 902.0,302.7 898.2,300.2 894.5,287.7 890.8,292.7 887.1,275.2 883.4,270.1 879.6,292.7 875.9,267.6 872.2,317.8 868.5,297.7 864.8,305.2 861.0,255.1 857.3,292.7 853.6,295.2 849.9,278.9 846.2,252.6 842.4,267.6 838.7,285.2 835.0,273.9 831.3,300.2 827.6,277.7 823.8,255.1 820.1,267.6 816.4,277.7 812.7,285.2 809.0,283.9 805.2,290.2 801.5,272.7 797.8,245.1 794.1,242.6 790.4,252.0 786.6,272.7 782.9,282.7 779.2,295.2 775.5,257.6 771.8,306.5 768.0,310.3 764.3,291.5 760.6,292.7 756.9,327.8 753.2,340.3 749.4,325.3 745.7,305.2 742.0,285.2 738.3,287.7 734.6,306.5 730.8,292.7 727.1,320.3 723.4,317.8 719.7,332.8 716.0,297.7 712.2,322.8 708.5,315.3 704.8,306.5 701.1,342.9 697.4,337.8 693.6,315.3 689.9,329.0 686.2,335.3 682.5,347.9 678.8,325.3 675.0,287.7 671.3,315.3 667.6,335.3 663.9,320.3 660.2,335.3 656.4,297.7 652.7,305.2 649.0,297.7 645.3,335.3 641.6,297.7 637.8,315.3 634.1,330.3 630.4,361.7 626.7,350.4 623.0,302.7 619.2,360.4 615.5,390.5 611.8,360.4 608.1,302.7 604.4,295.2 600.6,284.7 596.9,273.9 593.2,291.5 589.5,320.3 585.8,295.2 582.0,332.8 578.3,332.8 574.6,304.0 570.9,370.4 567.2,372.9 563.4,362.9 559.7,368.6 556.0,380.5 552.3,378.0 548.6,390.5 544.8,399.3 541.1,428.1 537.4,465.7 533.7,369.2 530.0,482.2 526.2,470.0 522.5,454.7 518.8,508.0 515.1,506.4 511.4,487.0 507.6,494.2 503.9,462.9 500.2,552.7 496.5,550.2 492.8,526.4 489.0,564.7 485.3,597.9 481.6,512.6 477.9,591.6 474.2,598.0 470.4,592.9 466.7,611.7 463.0,607.9 459.3,570.3 455.6,559.0 451.8,634.2 448.1,634.2 444.4,616.7 440.7,661.8 437.0,649.8 433.2,630.5 429.5,660.6 425.8,654.3 422.1,685.6 418.4,678.1 414.6,664.4 410.9,658.0 407.2,679.4 403.5,690.6 399.8,695.8 396.0,671.8 392.3,690.6 388.6,685.6 384.9,690.6 381.2,677.2 377.4,676.9 373.7,704.4 370.0,703.3 366.3,690.6 362.6,699.9 358.8,712.0 355.1,700.7 351.4,700.2 347.7,699.4 344.0,681.9 340.2,675.5 336.5,697.4 332.8,705.8 329.1,704.4 325.4,696.9 321.6,692.5 317.9,697.9 314.2,708.2 310.5,698.1 306.8,700.7 303.0,706.1 299.3,712.0 295.6,698.6 291.9,700.7 288.2,698.5 284.4,706.7 280.7,712.0 277.0,715.4 273.3,711.3 269.6,703.7 265.8,705.7 262.1,707.8 258.4,698.9 254.7,699.0 251.0,700.7 247.2,712.0 243.5,711.5 239.8,701.6 236.1,713.2 232.4,716.0 228.6,706.2 224.9,704.6 221.2,713.6 217.5,716.0 213.8,716.0 210.0,707.2 206.3,708.6 202.6,712.6 198.9,716.0 195.2,714.5 191.4,710.5 187.7,712.7 184.0,713.7" fill="#2ca02c" fill-opacity="0.2"/>
<polygon points="184.0,630.4 185.9,639.7 187.7,623.4 189.6,628.1 191.4,625.6 193.3,620.7 195.2,616.6 197.0,609.5 198.9,602.6 200.7,607.9 202.6,605.8 204.5,605.6 206.3,584.5 208.2,569.3 210.0,562.4 211.9,555.2 213.8,549.5 215.6,543.1 217.5,533.7 219.3,522.9 221.2,528.0 223.1,506.8 224.9,511.3 226.8,495.7 228.6,489.4 230.5,478.5 232.4,472.4 234.2,463.0 236.1,448.0 237.9,443.7 239.8,415.0 241.7,423.2 243.5,417.1 245.4,409.7 247.2,406.5 249.1,408.9 251.0,391.4 252.8,383.2 254.7,388.6 256.5,374.9 258.4,376.8 260.3,364.7 262.1,357.1 264.0,351.3 265.8,346.8 267.7,338.9 269.6,335.4 271.4,339.1 273.3,330.6 275.1,325.0 277.0,327.7 278.9,330.4 280.7,316.1 282.6,323.2 284.4,318.5 286.3,316.5 288.2,301.4 290.0,304.2 291.9,312.1 293.7,292.3 295.6,262.8 297.5,279.6 299.3,291.3 301.2,284.7 303.0,279.7 304.9,275.4 306.8,279.0 308.6,284.7 310.5,271.8 312.3,271.7 314.2,283.3 316.1,276.1 317.9,270.5 319.8,270.3 321.6,264.6 323.5,260.4 325.4,259.5 327.2,261.3 329.1,243.3 330.9,240.0 332.8,235.3 334.7,237.5 336.5,249.3 338.4,248.0 340.2,236.6 342.1,235.4 344.0,241.7 345.8,237.9 347.7,247.0 349.5,236.5 351.4,245.3 353.3,239.2 355.1,238.2 357.0,214.9 358.8,250.1 360.7,239.9 362.6,230.5 364.4,232.2 366.3,233.4 368.1,226.3 370.0,223.3 371.9,221.0 373.7,232.0 375.6,224.9 377.4,226.5 379.3,229.4 381.2,233.2 383.0,221.9 384.9,211.3 386.7,203.1 388.6,219.1 390.5,219.2 392.3,219.7 394.2,201.6 396.0,222.3 397.9,215.6 399.8,219.5 401.6,213.9 403.5,212.5 405.3,203.0 407.2,222.0 409.1,210.4 410.9,196.8 412.8,212.6 414.6,208.5 416.5,212.2 418.4,223.9 420.2,201.8 422.1,189.5 423.9,200.7 425.8,200.1 427.7,190.0 429.5,189.0 431.4,179.5 433.2,178.8 435.1,187.0 437.0,180.3 438.8,197.0 440.7,172.3 442.5,178.9 444.4,170.8 446.3,169.8 448.1,179.4 450.0,178.2 451.8,184.1 453.7,193.9 455.6,178.5 457.4,155.9 459.3,187.0 461.1,173.3 463.0,179.0 464.9,175.2 466.7,183.8 468.6,190.5 470.4,168.7 472.3,168.9 474.2,173.8 476.0,175.5 477.9,173.6 479.7,172.0 481.6,174.6 483.5,186.5 485.3,163.6 487.2,158.1 489.0,138.2 490.9,171.9 492.8,167.2 494.6,182.2 496.5,159.3 498.3,163.7 500.2,162.7 502.1,158.7 503.9,175.4 505.8,194.4 507.6,166.3 509.5,125.3 511.4,159.6 513.2,173.3 515.1,169.6 516.9,166.3 518.8,162.3 520.7,173.4 522.5,172.7 524.4,154.2 526.2,171.8 528.1,153.1 530.0,165.0 531.8,178.0 533.7,145.9 535.5,171.2 537.4,157.8 539.3,148.6 541.1,166.4 543.0,171.8 544.8,153.3 546.7,161.1 548.6,171.6 550.4,170.4 552.3,164.8 554.1,153.8 556.0,163.8 557.9,156.1 559.7,147.8 561.6,150.6 563.4,149.0 565.3,150.3 567.2,172.9 569.0,149.5 570.9,156.3 572.7,159.5 574.6,167.0 576.5,148.8 578.3,149.0 580.2,157.8 582.0,167.1 583.9,164.2 585.8,162.7 587.6,152.5 589.5,160.2 591.3,158.9 593.2,146.9 595.1,160.3 596.9,152.9 598.8,161.5 600.6,155.6 602.5,157.5 604.4,157.3 606.2,162.7 608.1,167.4 609.9,161.4 611.8,162.7 613.7,150.4 615.5,151.4 617.4,168.4 619.2,153.5 621.1,162.4 623.0,133.9 624.8,162.2 626.7,170.2 628.5,149.9 630.4,154.4 632.3,167.9 634.1,171.0 636.0,162.2 637.8,167.3 639.7,160.6 641.6,152.6 643.4,145.6 645.3,160.3 647.1,146.1 649.0,147.7 650.9,160.6 652.7,170.4 654.6,149.8 656.4,151.6 658.3,137.3 660.2,144.6 662.0,149.7 663.9,142.2 665.7,164.2 667.6,153.9 669.5,157.5 671.3,141.0 673.2,150.4 675.0,179.6 676.9,143.5 678.8,161.8 680.6,148.0 682.5,158.0 684.3,151.9 686.2,148.6 688.1,152.0 689.9,161.1 691.8,141.8 693.6,149.8 695.5,153.0 697.4,147.1 699.2,157.0 701.1,115.5 702.9,150.8 704.8,149.6 706.7,149.7 708.5,159.9 710.4,162.1 712.2,150.8 714.1,121.3 716.0,141.7 717.8,148.9 719.7,161.4 721.5,148.4 723.4,145.9 725.3,144.5 727.1,150.0 729.0,162.6 730.8,143.3 732.7,158.6 734.6,148.1 736.4,163.5 738.3,146.5 740.1,159.1 742.0,144.0 743.9,138.5 745.7,143.4 747.6,162.4 749.4,160.6 751.3,160.1 753.2,147.7 755.0,150.3 756.9,151.8 758.7,150.5 760.6,148.3 762.5,147.8 764.3,139.3 766.2,153.5 768.0,151.4 769.9,168.0 771.8,125.5 773.6,158.6 775.5,162.6 777.3,151.2 779.2,144.6 781.1,156.5 782.9,156.9 784.8,157.1 786.6,151.9 788.5,157.4 790.4,148.8 792.2,150.5 794.1,150.2 795.9,146.8 797.8,152.7 799.7,151.8 801.5,125.2 803.4,153.3 805.2,146.5 807.1,152.5 809.0,156.6 810.8,156.6 812.7,159.6 814.5,152.8 816.4,157.8 818.3,156.3 820.1,143.0 822.0,154.0 823.8,114.1 825.7,150.7 827.6,145.9 829.4,157.8 831.3,151.7 833.1,131.5 835.0,146.1 836.9,144.7 838.7,150.9 840.6,145.9 842.4,162.2 844.3,159.7 846.2,149.4 848.0,114.0 849.9,156.2 851.7,154.5 853.6,152.1 855.5,116.9 857.3,162.9 859.2,164.9 861.0,154.0 862.9,167.5 864.8,159.4 866.6,159.0 868.5,162.3 870.3,151.9 872.2,157.5 874.1,154.7 875.9,162.3 877.8,160.2 879.6,150.1 881.5,151.4 883.4,158.2 885.2,151.6 887.1,153.1 888.9,153.5 890.8,141.9 892.7,158.2 894.5,151.6 896.4,151.7 898.2,157.1 900.1,147.5 902.0,149.8 903.8,153.4 905.7,155.2 907.5,155.5 909.4,155.6 911.3,149.4 913.1,153.6 915.0,170.0 916.8,156.3 918.7,168.4 918.7,195.4 916.8,204.7 915.0,199.2 913.1,202.4 911.3,202.7 909.4,218.7 907.5,206.0 905.7,186.7 903.8,205.4 902.0,194.8 900.1,206.8 898.2,209.1 896.4,202.0 894.5,202.1 892.7,204.2 890.8,194.8 888.9,206.0 887.1,199.1 885.2,207.4 883.4,200.8 881.5,212.9 879.6,203.3 877.8,192.2 875.9,192.4 874.1,214.2 872.2,205.4 870.3,200.6 868.5,207.8 866.6,204.0 864.8,199.1 862.9,200.8 861.0,197.5 859.2,197.1 857.3,189.3 855.5,208.8 853.6,202.4 851.7,184.7 849.9,196.1 848.0,212.0 846.2,220.5 844.3,210.4 842.4,203.7 840.6,192.9 838.7,187.6 836.9,191.4 835.0,207.1 833.1,198.5 831.3,187.6 829.4,204.0 827.6,198.1 825.7,212.5 823.8,213.2 822.0,211.3 820.1,216.1 818.3,204.0 816.4,196.1 814.5,196.0 812.7,214.3 810.8,203.8 809.0,201.2 807.1,203.4 805.2,202.2 803.4,204.7 801.5,213.0 799.7,206.2 797.8,213.9 795.9,207.1 794.1,203.9 792.2,212.9 790.4,205.2 788.5,217.6 786.6,212.6 784.8,222.1 782.9,207.3 781.1,207.8 779.2,194.6 777.3,210.0 775.5,217.1 773.6,212.8 771.8,207.1 769.9,216.5 768.0,226.8 766.2,208.5 764.3,211.5 762.5,210.6 760.6,203.4 758.7,199.8 756.9,211.6 755.0,211.0 753.2,207.8 751.3,208.2 749.4,204.5 747.6,224.8 745.7,216.3 743.9,206.5 742.0,213.4 740.1,208.4 738.3,218.0 736.4,217.2 734.6,210.3 732.7,218.5 730.8,212.0 729.0,204.0 727.1,214.4 725.3,214.9 723.4,212.5 721.5,201.7 719.7,211.7 717.8,216.1 716.0,207.5 714.1,214.0 712.2,212.7 710.4,208.4 708.5,217.7 706.7,210.3 704.8,201.1 702.9,213.4 701.1,212.7 699.2,201.3 697.4,211.4 695.5,207.2 693.6,201.8 691.8,211.6 689.9,206.2 688.1,198.6 686.2,222.2 684.3,212.4 682.5,198.7 680.6,212.5 678.8,217.6 676.9,210.6 675.0,212.0 673.2,204.3 671.3,213.0 669.5,210.3 667.6,211.6 665.7,222.8 663.9,220.1 662.0,221.8 660.2,225.4 658.3,216.8 656.4,218.7 654.6,204.5 652.7,212.4 650.9,212.5 649.0,216.8 647.1,231.5 645.3,206.3 643.4,214.7 641.6,224.9 639.7,217.3 637.8,213.9 636.0,204.4 634.1,206.7 632.3,195.2 630.4,210.0 628.5,216.5 626.7,223.5 624.8,212.8 623.0,221.7 621.1,215.4 619.2,211.1 617.4,204.1 615.5,214.0 613.7,219.7 611.8,224.5 609.9,208.6 608.1,213.8 606.2,216.2 604.4,215.3 602.5,208.6 600.6,219.9 598.8,226.5 596.9,212.2 595.1,210.4 593.2,222.0 591.3,224.1 589.5,228.4 587.6,206.7 585.8,214.6 583.9,218.7 582.0,222.2 580.2,213.7 578.3,221.2 576.5,214.0 574.6,223.5 572.7,219.7 570.9,221.2 569.0,207.7 567.2,223.1 565.3,219.7 563.4,201.7 561.6,234.5 559.7,226.8 557.9,222.3 556.0,213.9 554.1,235.6 552.3,230.7 550.4,215.5 548.6,218.2 546.7,218.7 544.8,231.1 543.0,218.8 541.1,226.9 539.3,235.1 537.4,214.7 535.5,211.8 533.7,220.9 531.8,228.6 530.0,225.0 528.1,228.4 526.2,213.3 524.4,233.6 522.5,217.9 520.7,237.4 518.8,222.9 516.9,224.8 515.1,215.6 513.2,232.4 511.4,224.2 509.5,225.7 507.6,219.6 505.8,225.7 503.9,232.4 502.1,218.8 500.2,237.5 498.3,227.0 496.5,232.9 494.6,235.2 492.8,225.7 490.9,237.2 489.0,237.1 487.2,221.9 485.3,246.3 483.5,237.4 481.6,232.0 479.7,240.4 477.9,235.0 476.0,236.4 474.2,239.4 472.3,236.5 470.4,260.6 468.6,246.2 466.7,239.2 464.9,235.4 463.0,236.5 461.1,236.9 459.3,231.7 457.4,241.5 455.6,228.5 453.7,238.5 451.8,231.1 450.0,231.5 448.1,244.3 446.3,239.4 444.4,253.1 442.5,244.9 440.7,263.1 438.8,258.0 437.0,253.6 435.1,253.8 433.2,250.8 431.4,261.1 429.5,263.7 427.7,258.6 425.8,246.0 423.9,249.6 422.1,269.0 420.2,255.0 418.4,246.3 416.5,257.4 414.6,267.2 412.8,250.6 410.9,263.5 409.1,253.0 407.2,249.2 405.3,253.9 403.5,268.8 401.6,264.4 399.8,264.1 397.9,265.2 396.0,276.4 394.2,264.3 392.3,268.3 390.5,266.9 388.6,264.0 386.7,264.5 384.9,269.0 383.0,268.9 381.2,268.7 379.3,268.5 377.4,263.1 375.6,271.0 373.7,269.1 371.9,284.1 370.0,267.6 368.1,263.7 366.3,274.6 364.4,280.3 362.6,278.6 360.7,286.6 358.8,274.3 357.0,277.4 355.1,285.7 353.3,288.7 351.4,290.3 349.5,295.6 347.7,291.8 345.8,300.9 344.0,290.6 342.1,301.1 340.2,312.6 338.4,299.7 336.5,306.8 334.7,303.9 332.8,313.6 330.9,303.1 329.1,298.4 327.2,305.7 325.4,304.3 323.5,329.1 321.6,308.8 319.8,318.0 317.9,319.0 316.1,322.7 314.2,328.8 312.3,319.5 310.5,324.7 308.6,338.3 306.8,335.6 304.9,334.4 303.0,349.7 301.2,345.9 299.3,348.4 297.5,351.5 295.6,359.7 293.7,356.2 291.9,369.1 290.0,369.3 288.2,368.2 286.3,378.6 284.4,388.9 282.6,381.6 280.7,381.1 278.9,404.7 277.0,401.0 275.1,410.9 273.3,414.3 271.4,417.4 269.6,427.2 267.7,434.0 265.8,438.4 264.0,449.6 262.1,452.6 260.3,458.1 258.4,478.0 256.5,481.4 254.7,487.7 252.8,493.3 251.0,515.5 249.1,512.1 247.2,528.4 245.4,535.7 243.5,537.7 241.7,545.1 239.8,554.1 237.9,570.3 236.1,565.8 234.2,572.3 232.4,580.4 230.5,592.6 228.6,595.6 226.8,617.9 224.9,627.1 223.1,625.4 221.2,623.5 219.3,641.1 217.5,647.1 215.6,636.1 213.8,656.9 211.9,644.7 210.0,655.4 208.2,649.5 206.3,661.6 204.5,655.2 202.6,665.5 200.7,668.2 198.9,673.7 197.0,665.6 195.2,666.4 193.3,668.2 191.4,673.2 189.6,669.6 187.7,671.8 185.9,677.6 184.0,673.7" fill="#d62728" fill-opacity="0.2"/>
<polygon points="918.7,96.4 922.4,100.8 926.1,85.2 929.9,83.1 933.6,61.3 937.3,77.6 941.0,79.9 944.7,89.9 948.5,98.2 952.2,87.6 955.9,94.3 959.6,87.7 963.3,77.9 967.1,86.0 970.8,86.6 974.5,96.4 978.2,89.6 981.9,90.9 985.7,91.4 989.4,102.1 993.1,99.5 996.8,82.7 1000.5,89.8 1004.3,85.8 1008.0,82.4 1011.7,84.0 1015.4,82.5 1019.1,76.7 1022.9,84.0 1026.6,83.4 1030.3,85.2 1034.0,92.9 1037.7,80.4 1041.5,86.9 1045.2,80.5 1048.9,83.1 1052.6,84.6 1056.3,82.1 1060.1,94.0 1063.8,90.2 1067.5,91.0 1071.2,96.9 1074.9,88.8 1078.7,73.9 1082.4,83.5 1086.1,88.0 1089.8,79.7 1093.5,87.1 1097.3,82.5 1101.0,82.6 1104.7,83.3 1108.4,84.0 1112.1,101.0 1115.9,91.3 1119.6,96.3 1123.3,82.2 1127.0,77.4 1130.7,77.6 1134.5,86.8 1138.2,96.4 1141.9,96.0 1145.6,76.7 1149.3,85.1 1153.1,79.7 1156.8,86.9 1160.5,74.9 1164.2,84.2 1167.9,88.2 1171.7,85.8 1175.4,83.5 1179.1,75.3 1182.8,78.6 1186.5,83.6 1190.3,83.8 1194.0,84.6 1197.7,94.9 1201.4,87.8 1205.1,52.8 1208.9,78.9 1212.6,78.0 1216.3,85.4 1220.0,80.4 1223.7,79.5 1227.5,75.5 1231.2,76.1 1234.9,73.1 1238.6,75.9 1242.3,81.2 1246.1,86.5 1249.8,85.9 1253.5,74.9 1257.2,54.1 1260.9,84.0 1264.7,74.8 1268.4,82.0 1272.1,80.4 1275.8,86.3 1279.5,78.2 1283.3,77.1 1287.0,83.4 1290.7,74.6 1294.4,88.9 1298.1,79.2 1301.9,87.8 1305.6,82.2 1309.3,71.2 1313.0,66.0 1316.7,78.1 1320.5,87.5 1324.2,85.7 1327.9,88.6 1331.6,68.1 1335.3,76.9 1339.1,92.3 1342.8,87.8 1346.5,85.5 1350.2,77.6 1353.9,81.4 1357.7,68.7 1361.4,71.5 1365.1,89.9 1368.8,86.1 1372.5,76.3 1376.3,71.0 1380.0,74.6 1383.7,81.5 1387.4,64.0 1391.1,58.7 1394.9,85.4 1398.6,80.0 1402.3,84.4 1406.0,75.8 1409.7,73.3 1413.5,62.9 1417.2,77.0 1420.9,80.2 1424.6,90.5 1428.3,72.9 1432.1,87.3 1435.8,82.2 1439.5,79.7 1443.2,72.9 1446.9,60.3 1450.7,88.1 1454.4,86.6 1458.1,87.8 1461.8,71.3 1465.5,72.7 1469.3,74.1 1473.0,62.3 1476.7,75.3 1480.4,73.4 1484.1,86.0 1487.9,75.2 1491.6,61.4 1495.3,70.4 1499.0,91.7 1502.7,80.9 1506.5,76.8 1510.2,80.6 1513.9,74.0 1517.6,72.3 1521.3,73.7 1525.1,84.9 1528.8,69.6 1532.5,80.7 1536.2,90.7 1539.9,78.8 1543.7,68.9 1547.4,73.3 1551.1,78.5 1554.8,82.3 1558.5,73.1 1562.3,68.2 1566.0,84.7 1569.7,70.8 1573.4,75.1 1577.1,88.2 1580.9,82.6 1584.6,80.8 1588.3,85.5 1592.0,86.1 1595.7,88.1 1599.5,78.1 1603.2,76.9 1606.9,73.9 1610.6,62.9 1614.3,73.7 1618.1,75.7 1621.8,84.2 1625.5,79.6 1629.2,86.8 1632.9,77.8 1636.7,78.9 1640.4,78.2 1644.1,71.4 1647.8,86.6 1651.5,71.2 1651.5,112.0 1647.8,100.0 1644.1,101.3 1640.4,108.2 1636.7,108.4 1632.9,123.6 1629.2,120.3 1625.5,108.8 1621.8,123.3 1618.1,114.9 1614.3,104.4 1610.6,118.4 1606.9,105.2 1603.2,120.8 1599.5,105.4 1595.7,117.1 1592.0,114.8 1588.3,112.4 1584.6,98.5 1580.9,112.8 1577.1,117.7 1573.4,116.9 1569.7,113.3 1566.0,111.3 1562.3,104.1 1558.5,111.0 1554.8,99.3 1551.1,106.5 1547.4,122.8 1543.7,107.7 1539.9,117.7 1536.2,120.5 1532.5,117.1 1528.8,122.8 1525.1,110.9 1521.3,112.0 1517.6,107.9 1513.9,119.9 1510.2,136.6 1506.5,106.1 1502.7,111.6 1499.0,120.1 1495.3,123.9 1491.6,119.5 1487.9,114.1 1484.1,116.4 1480.4,127.3 1476.7,112.7 1473.0,121.0 1469.3,115.0 1465.5,117.1 1461.8,114.2 1458.1,113.7 1454.4,119.6 1450.7,110.5 1446.9,105.5 1443.2,112.3 1439.5,120.9 1435.8,128.8 1432.1,116.0 1428.3,107.3 1424.6,115.9 1420.9,111.9 1417.2,107.2 1413.5,113.8 1409.7,117.9 1406.0,111.3 1402.3,121.3 1398.6,111.1 1394.9,103.8 1391.1,108.5 1387.4,113.8 1383.7,112.0 1380.0,121.3 1376.3,117.7 1372.5,110.7 1368.8,103.9 1365.1,116.7 1361.4,122.4 1357.7,117.3 1353.9,110.3 1350.2,101.4 1346.5,105.5 1342.8,103.2 1339.1,103.9 1335.3,99.4 1331.6,121.1 1327.9,114.4 1324.2,132.7 1320.5,114.4 1316.7,108.5 1313.0,110.5 1309.3,105.9 1305.6,106.3 1301.9,110.7 1298.1,110.1 1294.4,113.2 1290.7,108.1 1287.0,117.3 1283.3,111.4 1279.5,112.2 1275.8,108.7 1272.1,105.2 1268.4,99.9 1264.7,119.6 1260.9,107.8 1257.2,129.5 1253.5,120.0 1249.8,105.1 1246.1,125.0 1242.3,116.8 1238.6,128.7 1234.9,110.0 1231.2,118.9 1227.5,120.7 1223.7,127.4 1220.0,111.2 1216.3,114.4 1212.6,111.3 1208.9,102.4 1205.1,119.0 1201.4,116.3 1197.7,120.3 1194.0,119.6 1190.3,120.6 1186.5,112.7 1182.8,101.7 1179.1,103.2 1175.4,114.6 1171.7,127.0 1167.9,111.1 1164.2,127.9 1160.5,138.8 1156.8,111.6 1153.1,111.8 1149.3,124.6 1145.6,119.0 1141.9,118.7 1138.2,137.1 1134.5,135.3 1130.7,120.2 1127.0,109.8 1123.3,122.7 1119.6,118.2 1115.9,121.1 1112.1,124.1 1108.4,114.2 1104.7,116.7 1101.0,105.7 1097.3,132.9 1093.5,128.6 1089.8,111.4 1086.1,124.0 1082.4,127.5 1078.7,120.9 1074.9,129.4 1071.2,138.6 1067.5,115.3 1063.8,127.3 1060.1,112.1 1056.3,122.0 1052.6,116.4 1048.9,119.9 1045.2,127.5 1041.5,121.7 1037.7,108.7 1034.0,130.6 1030.3,127.4 1026.6,119.9 1022.9,111.6 1019.1,115.4 1015.4,114.6 1011.7,112.9 1008.0,115.6 1004.3,110.2 1000.5,117.0 996.8,136.4 993.1,115.0 989.4,125.0 985.7,132.4 981.9,120.7 978.2,112.3 974.5,108.7 970.8,136.2 967.1,105.8 963.3,129.8 959.6,119.4 955.9,116.0 952.2,135.4 948.5,110.2 944.7,118.4 941.0,117.2 937.3,109.7 933.6,117.8 929.9,123.0 926.1,135.4 922.4,126.0 918.7,123.8" fill="#9467bd" fill-opacity="0.2"/>
<line x1="370.5" x2="370.5" y1="716.5" y2="46.0" stroke="#b0b0b0" stroke-width="3" stroke-dasharray="3.0,5.83"/>
<line x1="556.5" x2="556.5" y1="716.5" y2="46.0" stroke="#b0b0b0" stroke-width="3" stroke-dasharray="3.0,5.83"/>
<line x1="742.5" x2="742.5" y1="716.5" y2="46.0" stroke="#b0b0b0" stroke-width="3" stroke-dasharray="3.0,5.83"/>
<line x1="928.5" x2="928.5" y1="716.5" y2="46.0" stroke="#b0b0b0" stroke-width="3" stroke-dasharray="3.0,5.83"/>
<line x1="1114.5" x2="1114.5" y1="716.5" y2="46.0" stroke="#b0b0b0" stroke-width="3" stroke-dasharray="3.0,5.83"/>
<line x1="1300.5" x2="1300.5" y1="716.5" y2="46.0" stroke="#b0b0b0" stroke-width="3" stroke-dasharray="3.0,5.83"/>
<line x1="1486.5" x2="1486.5" y1="716.5" y2="46.0" stroke="#b0b0b0" stroke-width="3" stroke-dasharray="3.0,5.83"/>
<line x1="184.8" x2="1672.0" y1="381.5" y2="381.5" stroke="#b0b0b0" stroke-width="3" stroke-dasharray="3.0,5.83"/>
<polyline points="184.0,716.0 187.7,716.0 191.4,716.0 195.2,716.0 198.9,716.0 202.6,716.0 206.3,716.0 210.0,716.0 213.8,716.0 217.5,716.0 221.2,716.0 224.9,716.0 228.6,716.0 232.4,716.0 236.1,716.0 239.8,716.0 243.5,716.0 247.2,716.0 251.0,716.0 254.7,716.0 258.4,716.0 262.1,716.0 265.8,716.0 269.6,716.0 273.3,716.0 277.0,716.0 280.7,716.0 284.4,716.0 288.2,716.0 291.9,716.0 295.6,716.0 299.3,716.0 303.0,716.0 306.8,716.0 310.5,716.0 314.2,716.0 317.9,716.0 321.6,716.0 325.4,716.0 329.1,716.0 332.8,716.0 336.5,716.0 340.2,716.0 344.0,716.0 347.7,716.0 351.4,716.0 355.1,716.0 358.8,716.0 362.6,716.0 366.3,716.0 370.0,716.0 373.7,716.0 377.4,716.0 381.2,716.0 384.9,716.0 388.6,716.0 392.3,716.0 396.0,716.0 399.8,716.0 403.5,716.0 407.2,716.0 410.9,716.0 414.6,716.0 418.4,716.0 422.1,716.0 425.8,716.0 429.5,716.0 433.2,716.0 437.0,716.0 440.7,716.0 444.4,716.0 448.1,716.0 451.8,716.0 455.6,716.0 459.3,716.0 463.0,716.0 466.7,716.0 470.4,716.0 474.2,716.0 477.9,716.0 481.6,716.0 485.3,716.0 489.0,716.0 492.8,716.0 496.5,716.0 500.2,716.0 503.9,716.0 507.6,716.0 511.4,716.0 515.1,716.0 518.8,716.0 522.5,716.0 526.2,716.0 530.0,716.0 533.7,716.0 537.4,716.0 541.1,716.0 544.8,716.0 548.6,716.0 552.3,716.0 556.0,716.0 559.7,716.0 563.4,716.0 567.2,716.0 570.9,716.0 574.6,716.0 578.3,716.0 582.0,716.0 585.8,716.0 589.5,716.0 593.2,716.0 596.9,716.0 600.6,716.0 604.4,716.0 608.1,716.0 611.8,716.0 615.5,716.0 619.2,716.0 623.0,716.0 626.7,716.0 630.4,716.0 634.1,716.0 637.8,716.0 641.6,716.0 645.3,716.0 649.0,716.0 652.7,716.0 656.4,716.0 660.2,716.0 663.9,716.0 667.6,716.0 671.3,716.0 675.0,716.0 678.8,716.0 682.5,716.0 686.2,716.0 689.9,716.0 693.6,716.0 697.4,716.0 701.1,716.0 704.8,716.0 708.5,716.0 712.2,716.0 716.0,716.0 719.7,716.0 723.4,716.0 727.1,716.0 730.8,716.0 734.6,716.0 738.3,716.0 742.0,716.0 745.7,716.0 749.4,716.0 753.2,716.0 756.9,716.0 760.6,716.0 764.3,716.0 768.0,716.0 771.8,716.0 775.5,716.0 779.2,716.0 782.9,716.0 786.6,716.0 790.4,716.0 794.1,716.0 797.8,716.0 801.5,716.0 805.2,716.0 809.0,716.0 812.7,716.0 816.4,716.0 820.1,716.0 823.8,716.0 827.6,716.0 831.3,716.0 835.0,716.0 838.7,716.0 842.4,716.0 846.2,716.0 849.9,716.0 853.6,716.0 857.3,716.0 861.0,716.0 864.8,716.0 868.5,716.0 872.2,716.0 875.9,716.0 879.6,716.0 883.4,716.0 887.1,716.0 890.8,716.0 894.5,716.0 898.2,716.0 902.0,716.0 905.7,716.0 909.4,716.0 913.1,716.0 916.8,716.0 920.6,716.0 924.3,716.0 928.0,716.0 931.7,716.0 935.4,716.0 939.2,716.0 942.9,716.0 946.6,716.0 950.3,716.0 954.0,716.0 957.8,716.0 961.5,716.0 965.2,716.0 968.9,716.0 972.6,716.0 976.4,716.0 980.1,716.0 983.8,716.0 987.5,716.0 991.2,716.0 995.0,716.0 998.7,716.0 1002.4,716.0 1006.1,716.0 1009.8,716.0 1013.6,716.0 1017.3,716.0 1021.0,716.0 1024.7,716.0 1028.4,716.0 1032.2,716.0 1035.9,716.0 1039.6,716.0 1043.3,716.0 1047.0,716.0 1050.8,716.0 1054.5,716.0 1058.2,716.0 1061.9,716.0 1065.6,716.0 1069.4,716.0 1073.1,716.0 1076.8,716.0 1080.5,716.0 1084.2,716.0 1088.0,716.0 1091.7,716.0 1095.4,716.0 1099.1,716.0 1102.8,716.0 1106.6,716.0 1110.3,716.0 1114.0,716.0 1117.7,716.0 1121.4,716.0 1125.2,716.0 1128.9,716.0 1132.6,716.0 1136.3,716.0 1140.0,716.0 1143.8,716.0 1147.5,716.0 1151.2,716.0 1154.9,716.0 1158.6,716.0 1162.4,716.0 1166.1,716.0 1169.8,716.0 1173.5,716.0 1177.2,716.0 1181.0,716.0 1184.7,716.0 1188.4,716.0 1192.1,716.0 1195.8,716.0 1199.6,716.0 1203.3,716.0 1207.0,716.0 1210.7,716.0 1214.4,716.0 1218.2,716.0 1221.9,716.0 1225.6,716.0 1229.3,716.0 1233.0,716.0 1236.8,716.0 1240.5,716.0 1244.2,716.0 1247.9,716.0 1251.6,716.0 1255.4,716.0 1259.1,716.0 1262.8,716.0 1266.5,716.0 1270.2,716.0 1274.0,716.0 1277.7,716.0 1281.4,716.0 1285.1,716.0 1288.8,716.0 1292.6,716.0 1296.3,716.0 1300.0,716.0 1303.7,716.0 1307.4,716.0 1311.2,716.0 1314.9,716.0 1318.6,716.0 1322.3,716.0 1326.0,716.0 1329.8,716.0 1333.5,716.0 1337.2,716.0 1340.9,716.0 1344.6,716.0 1348.4,716.0 1352.1,716.0 1355.8,716.0 1359.5,716.0 1363.2,716.0 1367.0,716.0 1370.7,716.0 1374.4,716.0 1378.1,716.0 1381.8,716.0 1385.6,716.0 1389.3,716.0 1393.0,716.0 1396.7,716.0 1400.4,716.0 1404.2,716.0 1407.9,716.0 1411.6,716.0 1415.3,716.0 1419.0,716.0 1422.8,716.0 1426.5,716.0 1430.2,716.0 1433.9,716.0 1437.6,716.0 1441.4,716.0 1445.1,716.0 1448.8,716.0 1452.5,716.0 1456.2,716.0 1460.0,716.0 1463.7,716.0 1467.4,716.0 1471.1,716.0 1474.8,716.0 1478.6,716.0 1482.3,716.0 1486.0,716.0 1489.7,716.0 1493.4,716.0 1497.2,716.0 1500.9,716.0 1504.6,716.0 1508.3,716.0 1512.0,716.0 1515.8,716.0 1519.5,716.0 1523.2,716.0 1526.9,716.0 1530.6,716.0 1534.4,716.0 1538.1,716.0 1541.8,716.0 1545.5,716.0 1549.2,716.0 1553.0,716.0 1556.7,716.0 1560.4,716.0 1564.1,716.0 1567.8,716.0 1571.6,716.0 1575.3,716.0 1579.0,716.0 1582.7,716.0 1586.4,716.0 1590.2,716.0 1593.9,716.0 1597.6,716.0 1601.3,716.0 1605.0,716.0 1608.8,716.0 1612.5,716.0 1616.2,716.0 1619.9,716.0 1623.6,716.0 1627.4,716.0 1631.1,716.0 1634.8,716.0 1638.5,716.0 1642.2,716.0 1646.0,716.0 1649.7,716.0 1653.4,716.0" fill="none" stroke="#1f77b4" stroke-width="2.08" stroke-opacity="0.5" stroke-linejoin="round" stroke-linecap="square"/>
<polyline points="184.0,716.0 187.7,716.0 191.4,716.0 195.2,716.0 198.9,716.0 202.6,716.0 206.3,716.0 210.0,716.0 213.8,716.0 217.5,716.0 221.2,716.0 224.9,716.0 228.6,716.0 232.4,716.0 236.1,716.0 239.8,716.0 243.5,716.0 247.2,716.0 251.0,716.0 254.7,716.0 258.4,716.0 262.1,716.0 265.8,716.0 269.6,716.0 273.3,716.0 277.0,716.0 280.7,716.0 284.4,716.0 288.2,716.0 291.9,716.0 295.6,716.0 299.3,716.0 303.0,716.0 306.8,716.0 310.5,716.0 314.2,716.0 317.9,716.0 321.6,716.0 325.4,716.0 329.1,716.0 332.8,716.0 336.5,716.0 340.2,716.0 344.0,716.0 347.7,716.0 351.4,716.0 355.1,716.0 358.8,716.0 362.6,716.0 366.3,716.0 370.0,716.0 373.7,716.0 377.4,716.0 381.2,716.0 384.9,716.0 388.6,716.0 392.3,716.0 396.0,716.0 399.8,716.0 403.5,716.0 407.2,716.0 410.9,716.0 414.6,712.0 418.4,712.0 422.1,712.0 425.8,712.0 429.5,709.4 433.2,712.0 437.0,712.0 440.7,712.0 444.4,712.0 448.1,712.0 451.8,701.9 455.6,712.0 459.3,712.0 463.0,700.7 466.7,695.7 470.4,703.2 474.2,710.7 477.9,691.9 481.6,699.4 485.3,695.7 489.0,681.9 492.8,690.6 496.5,671.8 500.2,675.6 503.9,661.8 507.6,648.0 511.4,651.8 515.1,660.6 518.8,655.5 522.5,636.7 526.2,631.1 530.0,625.5 533.7,646.8 537.4,646.8 541.1,615.4 544.8,616.7 548.6,622.9 552.3,579.1 556.0,600.4 559.7,614.2 563.4,585.3 567.2,556.5 570.9,571.5 574.6,552.7 578.3,575.3 582.0,556.5 585.8,506.4 589.5,542.7 593.2,528.9 596.9,547.7 600.6,515.8 604.4,483.8 608.1,521.4 611.8,507.6 615.5,535.0 619.2,513.5 623.0,492.0 626.7,470.5 630.4,415.6 634.1,495.0 637.8,475.0 641.6,487.5 645.3,430.6 649.0,446.9 652.7,426.9 656.4,439.4 660.2,418.1 663.9,475.0 667.6,395.5 671.3,383.0 675.0,415.6 678.8,460.7 682.5,406.8 686.2,414.3 689.9,426.9 693.6,426.9 697.4,383.0 701.1,419.3 704.8,364.2 708.5,406.8 712.2,372.9 716.0,375.5 719.7,337.8 723.4,385.5 727.1,405.5 730.8,433.1 734.6,347.9 738.3,393.0 742.0,439.4 745.7,403.0 749.4,405.5 753.2,386.7 756.9,464.5 760.6,395.5 764.3,413.1 768.0,380.5 771.8,420.6 775.5,384.2 779.2,370.4 782.9,371.7 786.6,366.7 790.4,421.8 794.1,359.2 797.8,391.7 801.5,403.0 805.2,362.9 809.0,379.2 812.7,405.5 816.4,404.3 820.1,361.7 823.8,369.2 827.6,380.5 831.3,366.7 835.0,376.7 838.7,391.7 842.4,390.5 846.2,332.8 849.9,361.7 853.6,336.6 857.3,329.1 861.0,406.8 864.8,379.2 868.5,341.6 872.2,349.1 875.9,381.7 879.6,366.7 883.4,388.0 887.1,349.1 890.8,355.4 894.5,383.0 898.2,329.1 902.0,367.9 905.7,369.2 909.4,334.1 913.1,330.3 916.8,322.8 920.6,316.5 924.3,369.2 928.0,352.9 931.7,362.9 935.4,361.7 939.2,393.0 942.9,349.1 946.6,362.9 950.3,356.6 954.0,395.5 957.8,380.5 961.5,330.3 965.2,361.7 968.9,374.2 972.6,344.1 976.4,374.2 980.1,356.6 983.8,341.6 987.5,401.8 991.2,367.9 995.0,304.0 998.7,364.2 1002.4,344.1 1006.1,329.1 1009.8,326.6 1013.6,340.3 1017.3,310.3 1021.0,315.3 1024.7,306.5 1028.4,290.2 1032.2,315.3 1035.9,295.2 1039.6,357.9 1043.3,290.5 1047.0,310.3 1050.8,282.7 1054.5,296.5 1058.2,283.6 1061.9,281.4 1065.6,340.3 1069.4,314.0 1073.1,319.0 1076.8,342.9 1080.5,282.9 1084.2,281.4 1088.0,315.3 1091.7,306.5 1095.4,261.6 1099.1,276.7 1102.8,249.1 1106.6,297.7 1110.3,269.2 1114.0,251.0 1117.7,254.4 1121.4,250.6 1125.2,201.7 1128.9,283.2 1132.6,263.1 1136.3,243.1 1140.0,260.6 1143.8,226.8 1147.5,226.8 1151.2,223.7 1154.9,220.5 1158.6,209.9 1162.4,199.2 1166.1,254.4 1169.8,233.1 1173.5,236.8 1177.2,238.1 1181.0,253.1 1184.7,255.6 1188.4,244.3 1192.1,243.1 1195.8,203.0 1199.6,229.3 1203.3,220.5 1207.0,203.0 1210.7,208.0 1214.4,231.8 1218.2,215.5 1221.9,225.5 1225.6,255.6 1229.3,218.0 1233.0,241.8 1236.8,218.0 1240.5,233.1 1244.2,213.0 1247.9,205.5 1251.6,220.5 1255.4,192.9 1259.1,216.8 1262.8,167.9 1266.5,191.7 1270.2,190.4 1274.0,210.5 1277.7,233.1 1281.4,208.0 1285.1,233.1 1288.8,238.1 1292.6,196.7 1296.3,196.7 1300.0,189.2 1303.7,203.0 1307.4,201.7 1311.2,181.7 1314.9,245.6 1318.6,170.4 1322.3,182.9 1326.0,220.5 1329.8,190.4 1333.5,164.1 1337.2,164.1 1340.9,205.5 1344.6,233.1 1348.4,180.4 1352.1,200.5 1355.8,187.9 1359.5,204.2 1363.2,182.9 1367.0,181.7 1370.7,167.9 1374.4,187.9 1378.1,187.9 1381.8,203.0 1385.6,182.9 1389.3,174.1 1393.0,192.9 1396.7,192.9 1400.4,185.4 1404.2,182.9 1407.9,167.9 1411.6,160.3 1415.3,216.8 1419.0,216.8 1422.8,206.7 1426.5,194.2 1430.2,191.7 1433.9,191.7 1437.6,198.0 1441.4,198.0 1445.1,179.2 1448.8,160.3 1452.5,177.9 1456.2,162.9 1460.0,167.9 1463.7,184.2 1467.4,189.2 1471.1,160.3 1474.8,187.9 1478.6,192.9 1482.3,174.1 1486.0,179.2 1489.7,167.9 1493.4,140.3 1497.2,195.5 1500.9,187.9 1504.6,182.9 1508.3,186.7 1512.0,176.6 1515.8,170.4 1519.5,165.4 1523.2,190.4 1526.9,182.9 1530.6,185.4 1534.4,176.6 1538.1,187.9 1541.8,198.0 1545.5,185.4 1549.2,175.4 1553.0,180.4 1556.7,181.7 1560.4,167.9 1564.1,175.4 1567.8,191.7 1571.6,179.2 1575.3,170.4 1579.0,179.2 1582.7,177.9 1586.4,172.9 1590.2,165.4 1593.9,157.8 1597.6,171.6 1601.3,154.1 1605.0,165.4 1608.8,169.1 1612.5,160.3 1616.2,154.1 1619.9,174.1 1623.6,152.8 1627.4,200.5 1631.1,152.8 1634.8,187.9 1638.5,171.6 1642.2,174.1 1646.0,162.9 1649.7,165.4 1653.4,157.8" fill="none" stroke="#1f77b4" stroke-width="2.08" stroke-opacity="0.5" stroke-linejoin="round" stroke-linecap="square"/>
<polyline points="184.0,716.0 187.7,716.0 191.4,716.0 195.2,716.0 198.9,716.0 202.6,716.0 206.3,716.0 210.0,716.0 213.8,716.0 217.5,716.0 221.2,716.0 224.9,716.0 228.6,716.0 232.4,716.0 236.1,716.0 239.8,716.0 243.5,716.0 247.2,716.0 251.0,716.0 254.7,716.0 258.4,716.0 262.1,716.0 265.8,716.0 269.6,716.0 273.3,716.0 277.0,716.0 280.7,716.0 284.4,716.0 288.2,716.0 291.9,716.0 295.6,716.0 299.3,716.0 303.0,716.0 306.8,716.0 310.5,716.0 314.2,716.0 317.9,716.0 321.6,716.0 325.4,716.0 329.1,716.0 332.8,716.0 336.5,716.0 340.2,716.0 344.0,716.0 347.7,716.0 351.4,716.0 355.1,716.0 358.8,716.0 362.6,716.0 366.3,716.0 370.0,716.0 373.7,716.0 377.4,716.0 381.2,716.0 384.9,716.0 388.6,716.0 392.3,716.0 396.0,716.0 399.8,716.0 403.5,716.0 407.2,716.0 410.9,716.0 414.6,716.0 418.4,716.0 422.1,716.0 425.8,716.0 429.5,716.0 433.2,716.0 437.0,716.0 440.7,716.0 444.4,716.0 448.1,716.0 451.8,716.0 455.6,716.0 459.3,716.0 463.0,716.0 466.7,716.0 470.4,716.0 474.2,716.0 477.9,716.0 481.6,716.0 485.3,716.0 489.0,716.0 492.8,716.0 496.5,716.0 500.2,716.0 503.9,716.0 507.6,716.0 511.4,716.0 515.1,716.0 518.8,716.0 522.5,716.0 526.2,716.0 530.0,716.0 533.7,716.0 537.4,716.0 541.1,716.0 544.8,716.0 548.6,716.0 552.3,716.0 556.0,716.0 559.7,716.0 563.4,716.0 567.2,716.0 570.9,716.0 574.6,716.0 578.3,712.0 582.0,716.0 585.8,716.0 589.5,716.0 593.2,716.0 596.9,716.0 600.6,716.0 604.4,716.0 608.1,716.0 611.8,716.0 615.5,716.0 619.2,716.0 623.0,716.0 626.7,710.7 630.4,710.7 634.1,716.0 637.8,710.1 641.6,705.7 645.3,705.7 649.0,709.4 652.7,716.0 656.4,716.0 660.2,716.0 663.9,698.2 667.6,698.2 671.3,700.7 675.0,710.7 678.8,700.7 682.5,705.7 686.2,710.7 689.9,707.6 693.6,704.4 697.4,697.5 701.1,690.6 704.8,691.9 708.5,716.0 712.2,684.4 716.0,684.4 719.7,686.9 723.4,689.4 727.1,698.2 730.8,686.9 734.6,691.9 738.3,690.6 742.0,678.1 745.7,676.9 749.4,688.1 753.2,682.5 756.9,676.9 760.6,688.1 764.3,685.6 768.0,678.1 771.8,665.6 775.5,663.1 779.2,658.0 782.9,660.6 786.6,663.1 790.4,663.1 794.1,669.3 797.8,643.0 801.5,660.6 805.2,633.0 809.0,643.0 812.7,661.8 816.4,655.5 820.1,629.2 823.8,640.5 827.6,636.7 831.3,643.0 835.0,596.6 838.7,620.4 842.4,625.5 846.2,620.4 849.9,633.0 853.6,621.7 857.3,610.4 861.0,599.1 864.8,606.6 868.5,594.1 872.2,592.9 875.9,599.1 879.6,605.4 883.4,572.8 887.1,579.1 890.8,566.5 894.5,587.8 898.2,569.0 902.0,595.4 905.7,549.0 909.4,595.4 913.1,570.3 916.8,572.8 920.6,542.7 924.3,571.5 928.0,545.2 931.7,557.8 935.4,574.1 939.2,580.3 942.9,581.6 946.6,556.5 950.3,579.1 954.0,556.5 957.8,572.8 961.5,592.9 965.2,599.1 968.9,594.1 972.6,577.8 976.4,571.5 980.1,592.9 983.8,590.3 987.5,597.9 991.2,589.1 995.0,586.6 998.7,605.4 1002.4,565.3 1006.1,564.0 1009.8,586.6 1013.6,576.6 1017.3,566.5 1021.0,566.5 1024.7,586.6 1028.4,581.6 1032.2,559.0 1035.9,566.5 1039.6,587.8 1043.3,592.9 1047.0,580.3 1050.8,557.8 1054.5,577.8 1058.2,555.2 1061.9,585.3 1065.6,567.8 1069.4,587.8 1073.1,607.9 1076.8,575.3 1080.5,585.3 1084.2,585.3 1088.0,582.8 1091.7,586.6 1095.4,550.2 1099.1,562.8 1102.8,575.3 1106.6,560.3 1110.3,580.3 1114.0,611.7 1117.7,554.0 1121.4,567.8 1125.2,542.7 1128.9,569.0 1132.6,547.7 1136.3,555.2 1140.0,577.8 1143.8,579.1 1147.5,569.0 1151.2,577.8 1154.9,546.5 1158.6,562.8 1162.4,576.6 1166.1,537.7 1169.8,545.2 1173.5,567.8 1177.2,565.3 1181.0,577.8 1184.7,581.6 1188.4,566.5 1192.1,560.3 1195.8,576.6 1199.6,556.5 1203.3,560.3 1207.0,564.0 1210.7,535.2 1214.4,541.5 1218.2,545.2 1221.9,545.2 1225.6,516.4 1229.3,555.2 1233.0,542.7 1236.8,576.6 1240.5,559.0 1244.2,556.5 1247.9,535.2 1251.6,551.5 1255.4,565.3 1259.1,580.3 1262.8,561.5 1266.5,551.5 1270.2,559.0 1274.0,551.5 1277.7,570.3 1281.4,586.6 1285.1,536.4 1288.8,565.3 1292.6,552.7 1296.3,570.3 1300.0,585.3 1303.7,556.5 1307.4,567.8 1311.2,536.4 1314.9,556.5 1318.6,552.7 1322.3,544.0 1326.0,566.5 1329.8,552.7 1333.5,547.7 1337.2,545.2 1340.9,533.9 1344.6,556.5 1348.4,552.7 1352.1,549.0 1355.8,585.3 1359.5,580.3 1363.2,576.6 1367.0,565.3 1370.7,577.8 1374.4,564.0 1378.1,566.5 1381.8,557.8 1385.6,597.9 1389.3,565.3 1393.0,582.8 1396.7,577.8 1400.4,570.3 1404.2,591.6 1407.9,577.8 1411.6,564.0 1415.3,586.6 1419.0,577.8 1422.8,576.6 1426.5,575.3 1430.2,550.2 1433.9,575.3 1437.6,562.8 1441.4,596.6 1445.1,566.5 1448.8,572.8 1452.5,567.8 1456.2,571.5 1460.0,570.3 1463.7,557.8 1467.4,545.2 1471.1,590.3 1474.8,589.1 1478.6,562.8 1482.3,564.7 1486.0,566.5 1489.7,569.0 1493.4,550.2 1497.2,552.7 1500.9,544.0 1504.6,550.2 1508.3,533.9 1512.0,552.7 1515.8,589.1 1519.5,547.7 1523.2,549.0 1526.9,561.5 1530.6,570.3 1534.4,565.3 1538.1,572.8 1541.8,565.3 1545.5,582.8 1549.2,560.3 1553.0,551.5 1556.7,577.8 1560.4,569.0 1564.1,566.5 1567.8,577.8 1571.6,570.3 1575.3,595.4 1579.0,549.0 1582.7,567.8 1586.4,579.1 1590.2,585.3 1593.9,580.3 1597.6,592.9 1601.3,587.8 1605.0,601.6 1608.8,586.6 1612.5,574.1 1616.2,592.9 1619.9,590.3 1623.6,582.8 1627.4,577.8 1631.1,586.6 1634.8,567.8 1638.5,575.3 1642.2,571.5 1646.0,569.0 1649.7,561.5 1653.4,556.5" fill="none" stroke="#1f77b4" stroke-width="5.0" stroke-opacity="1" stroke-linejoin="round" stroke-linecap="square"/>
<polyline points="184.0,716.0 187.7,712.0 191.4,701.1 195.2,710.9 198.9,716.0 202.6,716.0 206.3,715.3 210.0,716.0 213.8,712.9 217.5,714.4 221.2,712.0 224.9,704.4 228.6,705.6 232.4,712.9 236.1,707.0 239.8,716.0 243.5,716.0 247.2,716.0 251.0,709.9 254.7,716.0 258.4,704.4 262.1,704.8 265.8,710.1 269.6,711.2 273.3,699.8 277.0,698.9 280.7,711.3 284.4,703.9 288.2,716.0 291.9,708.8 295.6,711.7 299.3,712.2 303.0,712.0 306.8,709.4 310.5,715.1 314.2,703.8 317.9,703.9 321.6,699.5 325.4,701.9 329.1,712.0 332.8,705.2 336.5,716.0 340.2,705.1 344.0,705.7 347.7,709.7 351.4,716.0 355.1,710.7 358.8,712.8 362.6,707.1 366.3,704.4 370.0,711.1 373.7,708.2 377.4,704.2 381.2,703.2 384.9,701.9 388.6,692.4 392.3,698.7 396.0,700.7 399.8,708.2 403.5,681.9 407.2,699.4 410.9,698.1 414.6,695.7 418.4,701.8 422.1,690.6 425.8,660.6 429.5,670.6 433.2,671.9 437.0,668.1 440.7,654.3 444.4,685.6 448.1,649.3 451.8,680.6 455.6,639.2 459.3,675.6 463.0,658.0 466.7,670.6 470.4,644.3 474.2,629.4 477.9,619.2 481.6,629.2 485.3,580.3 489.0,603.1 492.8,611.7 496.5,600.5 500.2,605.8 503.9,600.4 507.6,582.8 511.4,635.5 515.1,528.9 518.8,574.1 522.5,567.7 526.2,549.0 530.0,510.1 533.7,522.7 537.4,479.4 541.1,454.2 544.8,483.9 548.6,468.0 552.3,433.2 556.0,489.2 559.7,445.7 563.4,430.6 567.2,443.1 570.9,425.5 574.6,434.4 578.3,456.9 582.0,437.5 585.8,433.1 589.5,383.0 593.2,327.8 596.9,337.8 600.6,330.3 604.4,305.2 608.1,330.3 611.8,289.7 615.5,255.1 619.2,262.2 623.0,282.7 626.7,317.8 630.4,300.2 634.1,355.4 637.8,340.3 641.6,330.3 645.3,300.2 649.0,320.3 652.7,340.3 656.4,286.4 660.2,337.8 663.9,292.7 667.6,300.2 671.3,282.7 675.0,312.8 678.8,292.7 682.5,287.7 686.2,292.7 689.9,316.8 693.6,320.3 697.4,295.2 701.1,315.3 704.8,310.3 708.5,337.8 712.2,325.3 716.0,327.8 719.7,312.8 723.4,332.8 727.1,285.2 730.8,320.3 734.6,320.3 738.3,287.7 742.0,315.3 745.7,317.8 749.4,315.3 753.2,312.8 756.9,322.8 760.6,273.9 764.3,287.7 768.0,267.6 771.8,312.8 775.5,365.4 779.2,270.1 782.9,290.2 786.6,309.0 790.4,311.5 794.1,293.7 797.8,265.1 801.5,275.2 805.2,292.7 809.0,270.1 812.7,278.9 816.4,260.1 820.1,277.7 823.8,285.2 827.6,302.7 831.3,257.6 835.0,255.1 838.7,295.2 842.4,282.7 846.2,317.8 849.9,295.2 853.6,277.7 857.3,350.4 861.0,300.2 864.8,297.7 868.5,272.7 872.2,245.1 875.9,260.1 879.6,267.6 883.4,307.8 887.1,287.7 890.8,294.0 894.5,292.7 898.2,287.7 902.0,297.7 905.7,290.2 909.4,275.2 913.1,282.7 916.8,322.8 920.6,292.7 924.3,272.7 928.0,315.3 931.7,300.2 935.4,301.5 939.2,300.2 942.9,306.5 946.6,292.7 950.3,277.7 954.0,335.3 957.8,285.2 961.5,283.9 965.2,310.3 968.9,322.8 972.6,330.3 976.4,301.5 980.1,309.0 983.8,265.1 987.5,241.3 991.2,273.9 995.0,257.6 998.7,281.4 1002.4,261.4 1006.1,277.7 1009.8,262.6 1013.6,252.6 1017.3,312.8 1021.0,277.7 1024.7,240.1 1028.4,300.2 1032.2,252.6 1035.9,267.6 1039.6,256.4 1043.3,267.3 1047.0,256.6 1050.8,273.9 1054.5,287.7 1058.2,253.5 1061.9,285.2 1065.6,225.9 1069.4,246.6 1073.1,254.1 1076.8,240.3 1080.5,281.7 1084.2,256.0 1088.0,269.2 1091.7,306.5 1095.4,281.4 1099.1,315.3 1102.8,265.4 1106.6,246.3 1110.3,295.2 1114.0,276.7 1117.7,291.5 1121.4,248.8 1125.2,287.7 1128.9,244.7 1132.6,265.1 1136.3,279.2 1140.0,292.7 1143.8,299.0 1147.5,273.5 1151.2,295.2 1154.9,271.4 1158.6,263.5 1162.4,277.9 1166.1,238.8 1169.8,240.9 1173.5,233.1 1177.2,236.3 1181.0,230.6 1184.7,246.9 1188.4,258.1 1192.1,265.7 1195.8,282.3 1199.6,275.2 1203.3,250.3 1207.0,277.9 1210.7,256.6 1214.4,266.1 1218.2,294.0 1221.9,292.7 1225.6,256.6 1229.3,288.0 1233.0,301.5 1236.8,290.3 1240.5,276.0 1244.2,271.4 1247.9,227.2 1251.6,256.6 1255.4,232.8 1259.1,208.0 1262.8,223.5 1266.5,258.1 1270.2,248.4 1274.0,233.1 1277.7,246.3 1281.4,274.8 1285.1,255.4 1288.8,262.3 1292.6,232.8 1296.3,268.5 1300.0,235.3 1303.7,223.0 1307.4,255.6 1311.2,247.5 1314.9,223.0 1318.6,213.0 1322.3,218.0 1326.0,208.0 1329.8,228.9 1333.5,240.6 1337.2,245.6 1340.9,213.0 1344.6,220.3 1348.4,233.1 1352.1,245.6 1355.8,228.0 1359.5,238.0 1363.2,256.0 1367.0,257.8 1370.7,230.6 1374.4,269.8 1378.1,243.0 1381.8,228.0 1385.6,233.1 1389.3,249.6 1393.0,266.0 1396.7,223.0 1400.4,234.3 1404.2,231.2 1407.9,216.8 1411.6,230.6 1415.3,228.0 1419.0,265.4 1422.8,239.3 1426.5,239.3 1430.2,213.0 1433.9,220.4 1437.6,218.0 1441.4,203.0 1445.1,260.4 1448.8,260.6 1452.5,226.1 1456.2,195.5 1460.0,219.3 1463.7,204.7 1467.4,192.9 1471.1,216.8 1474.8,208.0 1478.6,238.1 1482.3,239.3 1486.0,218.0 1489.7,235.6 1493.4,220.5 1497.2,218.0 1500.9,243.1 1504.6,245.6 1508.3,248.1 1512.0,206.7 1515.8,213.0 1519.5,210.5 1523.2,228.0 1526.9,198.0 1530.6,200.5 1534.4,240.6 1538.1,205.5 1541.8,206.7 1545.5,205.5 1549.2,250.6 1553.0,246.9 1556.7,258.1 1560.4,219.3 1564.1,248.1 1567.8,196.7 1571.6,190.4 1575.3,203.0 1579.0,210.5 1582.7,231.8 1586.4,229.3 1590.2,224.3 1593.9,226.8 1597.6,226.8 1601.3,190.4 1605.0,215.5 1608.8,244.3 1612.5,219.3 1616.2,196.7 1619.9,175.4 1623.6,176.6 1627.4,211.7 1631.1,200.5 1634.8,186.7 1638.5,199.2 1642.2,206.7 1646.0,190.4 1649.7,204.2 1653.4,208.0" fill="none" stroke="#ff7f0e" stroke-width="2.08" stroke-opacity="0.5" stroke-linejoin="round" stroke-linecap="square"/>
<polyline points="184.0,691.1 187.7,695.7 191.4,697.1 195.2,680.6 198.9,670.0 202.6,682.2 206.3,683.1 210.0,679.1 213.8,661.8 217.5,668.1 221.2,664.7 224.9,658.0 228.6,673.1 232.4,674.2 236.1,657.6 239.8,665.6 243.5,648.8 247.2,666.6 251.0,655.5 254.7,638.1 258.4,633.0 262.1,595.4 265.8,600.4 269.6,550.7 273.3,502.6 277.0,523.9 280.7,470.0 284.4,453.2 288.2,446.1 291.9,428.1 295.6,380.5 299.3,327.8 303.0,311.2 306.8,315.3 310.5,299.0 314.2,280.2 317.9,250.1 321.6,245.7 325.4,255.1 329.1,242.6 332.8,247.8 336.5,248.5 340.2,242.6 344.0,240.8 347.7,247.6 351.4,235.0 355.1,275.2 358.8,300.2 362.6,297.1 366.3,261.6 370.0,247.6 373.7,254.1 377.4,247.6 381.2,257.6 384.9,256.9 388.6,261.4 392.3,255.1 396.0,260.9 399.8,247.6 403.5,242.2 407.2,240.3 410.9,227.8 414.6,236.8 418.4,232.1 422.1,232.3 425.8,236.2 429.5,235.6 433.2,239.1 437.0,220.1 440.7,220.5 444.4,246.2 448.1,243.1 451.8,213.1 455.6,212.6 459.3,177.9 463.0,205.4 466.7,218.0 470.4,216.9 474.2,207.5 477.9,206.5 481.6,220.5 485.3,208.3 489.0,202.7 492.8,185.4 496.5,197.0 500.2,223.0 503.9,211.9 507.6,208.2 511.4,192.0 515.1,195.5 518.8,196.3 522.5,199.6 526.2,214.2 530.0,220.5 533.7,228.4 537.4,219.9 541.1,219.2 544.8,225.1 548.6,220.0 552.3,215.5 556.0,211.1 559.7,207.1 563.4,211.8 567.2,200.5 570.9,203.0 574.6,206.1 578.3,196.7 582.0,204.0 585.8,200.5 589.5,200.9 593.2,183.0 596.9,174.7 600.6,168.6 604.4,155.3 608.1,159.8 611.8,167.9 615.5,170.6 619.2,165.2 623.0,176.6 626.7,175.4 630.4,188.2 634.1,176.7 637.8,179.5 641.6,180.4 645.3,189.6 649.0,169.5 652.7,162.9 656.4,173.8 660.2,181.3 663.9,172.9 667.6,172.3 671.3,178.4 675.0,170.3 678.8,172.2 682.5,165.4 686.2,155.9 689.9,156.3 693.6,142.4 697.4,157.5 701.1,157.8 704.8,153.2 708.5,172.7 712.2,174.2 716.0,170.4 719.7,165.3 723.4,160.9 727.1,155.3 730.8,165.9 734.6,180.4 738.3,177.2 742.0,170.9 745.7,157.8 749.4,166.8 753.2,158.7 756.9,166.1 760.6,170.4 764.3,164.4 768.0,157.8 771.8,152.8 775.5,148.1 779.2,146.6 782.9,150.3 786.6,162.1 790.4,160.3 794.1,177.0 797.8,168.5 801.5,170.4 805.2,155.6 809.0,158.6 812.7,135.3 816.4,139.7 820.1,144.2 823.8,157.8 827.6,161.1 831.3,150.3 835.0,135.8 838.7,115.2 842.4,134.8 846.2,142.8 849.9,122.7 853.6,137.7 857.3,150.3 861.0,102.7 864.8,115.4 868.5,127.8 872.2,115.2 875.9,135.0 879.6,140.3 883.4,122.6 887.1,110.2 890.8,125.2 894.5,105.2 898.2,119.9 902.0,137.8 905.7,102.7 909.4,117.7 913.1,125.5 916.8,117.7 920.6,100.2 924.3,112.4 928.0,125.2 931.7,117.7 935.4,100.2 939.2,83.9 942.9,90.1 946.6,79.5 950.3,96.8 954.0,106.4 957.8,98.6 961.5,112.7 965.2,106.5 968.9,103.8 972.6,90.1 976.4,104.6 980.1,94.7 983.8,117.5 987.5,110.2 991.2,109.8 995.0,110.3 998.7,106.2 1002.4,114.8 1006.1,115.2 1009.8,97.7 1013.6,95.6 1017.3,87.6 1021.0,89.6 1024.7,94.0 1028.4,92.3 1032.2,91.7 1035.9,91.1 1039.6,90.1 1043.3,76.5 1047.0,74.6 1050.8,77.6 1054.5,97.7 1058.2,85.1 1061.9,80.1 1065.6,82.9 1069.4,95.2 1073.1,78.2 1076.8,92.7 1080.5,82.6 1084.2,97.6 1088.0,97.7 1091.7,75.1 1095.4,88.8 1099.1,100.2 1102.8,82.6 1106.6,84.1 1110.3,87.6 1114.0,83.3 1117.7,67.6 1121.4,87.6 1125.2,88.5 1128.9,90.1 1132.6,78.2 1136.3,75.1 1140.0,83.7 1143.8,90.1 1147.5,92.2 1151.2,85.1 1154.9,87.6 1158.6,85.4 1162.4,77.6 1166.1,82.1 1169.8,90.1 1173.5,106.0 1177.2,82.6 1181.0,89.2 1184.7,81.4 1188.4,69.7 1192.1,72.6 1195.8,68.8 1199.6,76.7 1203.3,72.6 1207.0,80.1 1210.7,60.1 1214.4,81.4 1218.2,85.2 1221.9,69.2 1225.6,72.6 1229.3,72.6 1233.0,92.6 1236.8,87.6 1240.5,86.7 1244.2,82.6 1247.9,73.5 1251.6,80.1 1255.4,73.8 1259.1,78.9 1262.8,80.9 1266.5,72.6 1270.2,87.2 1274.0,65.1 1277.7,81.3 1281.4,78.9 1285.1,76.5 1288.8,77.6 1292.6,72.6 1296.3,75.1 1300.0,71.3 1303.7,58.6 1307.4,60.1 1311.2,75.1 1314.9,66.3 1318.6,67.4 1322.3,73.2 1326.0,75.3 1329.8,77.6 1333.5,69.0 1337.2,57.6 1340.9,65.1 1344.6,61.3 1348.4,56.2 1352.1,72.6 1355.8,63.8 1359.5,63.9 1363.2,75.1 1367.0,74.6 1370.7,63.8 1374.4,75.1 1378.1,63.8 1381.8,63.5 1385.6,72.6 1389.3,80.3 1393.0,74.5 1396.7,81.4 1400.4,72.6 1404.2,77.0 1407.9,71.3 1411.6,68.0 1415.3,77.6 1419.0,67.6 1422.8,67.6 1426.5,82.6 1430.2,70.7 1433.9,65.1 1437.6,72.7 1441.4,77.6 1445.1,58.8 1448.8,64.6 1452.5,75.1 1456.2,63.8 1460.0,66.3 1463.7,60.1 1467.4,67.2 1471.1,69.5 1474.8,82.6 1478.6,88.8 1482.3,70.1 1486.0,57.6 1489.7,72.6 1493.4,54.6 1497.2,52.5 1500.9,72.6 1504.6,65.3 1508.3,60.1 1512.0,71.3 1515.8,73.0 1519.5,63.8 1523.2,62.9 1526.9,66.3 1530.6,63.8 1534.4,62.9 1538.1,70.1 1541.8,55.0 1545.5,58.8 1549.2,73.8 1553.0,66.4 1556.7,63.8 1560.4,46.0 1564.1,71.3 1567.8,66.3 1571.6,61.4 1575.3,70.1 1579.0,52.1 1582.7,62.6 1586.4,68.6 1590.2,62.6 1593.9,67.6 1597.6,61.1 1601.3,57.6 1605.0,61.9 1608.8,76.4 1612.5,65.1 1616.2,56.5 1619.9,66.8 1623.6,70.1 1627.4,50.2 1631.1,61.3 1634.8,69.3 1638.5,65.1 1642.2,71.4 1646.0,52.5 1649.7,65.1 1653.4,58.8" fill="none" stroke="#ff7f0e" stroke-width="2.08" stroke-opacity="0.5" stroke-linejoin="round" stroke-linecap="square"/>
<polyline points="184.0,703.7 187.7,703.2 191.4,699.1 195.2,690.2 198.9,700.1 202.6,691.9 206.3,692.2 210.0,696.7 213.8,695.7 217.5,692.3 221.2,695.2 224.9,690.6 228.6,690.5 232.4,689.9 236.1,693.1 239.8,690.3 243.5,689.8 247.2,685.6 251.0,681.0 254.7,672.9 258.4,670.6 262.1,667.8 265.8,664.9 269.6,660.6 273.3,645.5 277.0,620.4 280.7,612.4 284.4,587.1 288.2,577.8 291.9,580.3 295.6,552.8 299.3,520.1 303.0,498.3 306.8,470.0 310.5,458.2 314.2,450.3 317.9,440.6 321.6,372.9 325.4,415.6 329.1,360.4 332.8,356.6 336.5,376.5 340.2,385.5 344.0,362.2 347.7,345.4 351.4,346.4 355.1,340.9 358.8,343.7 362.6,337.8 366.3,335.0 370.0,325.3 373.7,297.7 377.4,312.8 381.2,282.7 384.9,260.1 388.6,302.7 392.3,297.3 396.0,277.7 399.8,287.7 403.5,301.7 407.2,320.3 410.9,350.4 414.6,305.2 418.4,304.9 422.1,305.2 425.8,324.1 429.5,272.7 433.2,274.1 437.0,290.2 440.7,267.6 444.4,282.2 448.1,287.7 451.8,264.8 455.6,246.3 459.3,266.8 463.0,287.7 466.7,296.3 470.4,310.3 474.2,301.3 477.9,290.2 481.6,271.8 485.3,255.1 489.0,270.1 492.8,261.1 496.5,252.6 500.2,259.7 503.9,267.6 507.6,260.7 511.4,252.6 515.1,243.8 518.8,240.1 522.5,259.4 526.2,282.7 530.0,260.1 533.7,262.0 537.4,265.3 541.1,267.6 544.8,269.3 548.6,275.2 552.3,270.2 556.0,270.1 559.7,257.6 563.4,271.3 567.2,282.7 570.9,278.4 574.6,270.1 578.3,278.6 582.0,283.8 585.8,292.7 589.5,250.1 593.2,263.0 596.9,270.1 600.6,277.5 604.4,282.7 608.1,242.6 611.8,245.6 615.5,246.7 619.2,253.1 623.0,260.4 626.7,263.1 630.4,249.6 634.1,240.6 637.8,288.2 641.6,281.2 645.3,272.2 649.0,260.6 652.7,261.5 656.4,265.7 660.2,255.6 663.9,263.1 667.6,251.6 671.3,240.6 675.0,253.3 678.8,258.1 682.5,249.8 686.2,238.1 689.9,256.8 693.6,263.1 697.4,263.0 701.1,257.0 704.8,258.1 708.5,267.9 712.2,275.4 716.0,285.7 719.7,262.2 723.4,248.1 727.1,263.1 730.8,233.1 734.6,253.1 738.3,253.9 742.0,248.1 745.7,242.7 749.4,232.1 753.2,228.0 756.9,230.6 760.6,233.1 764.3,243.9 768.0,255.4 771.8,263.1 775.5,239.1 779.2,215.5 782.9,216.4 786.6,221.6 790.4,225.5 794.1,234.1 797.8,238.1 801.5,233.6 805.2,230.6 809.0,238.8 812.7,243.1 816.4,230.1 820.1,223.0 823.8,243.1 827.6,227.9 831.3,221.1 835.0,205.5 838.7,215.5 842.4,237.6 846.2,253.1 849.9,235.6 853.6,233.8 857.3,223.9 861.0,223.0 864.8,240.6 868.5,231.1 872.2,223.0 875.9,232.8 879.6,238.1 883.4,231.0 887.1,220.5 890.8,230.2 894.5,238.1 898.2,227.5 902.0,215.9 905.7,208.0 909.4,215.5 913.1,211.9 916.8,213.0 920.6,229.9 924.3,238.1 928.0,228.3 931.7,215.5 935.4,218.0 939.2,207.9 942.9,203.0 946.6,208.0 950.3,192.9 954.0,197.1 957.8,213.0 961.5,209.4 965.2,198.3 968.9,190.4 972.6,202.3 976.4,217.7 980.1,228.0 983.8,216.4 987.5,203.0 991.2,210.5 995.0,204.6 998.7,190.4 1002.4,191.1 1006.1,177.9 1009.8,195.5 1013.6,187.2 1017.3,190.4 1021.0,213.0 1024.7,203.7 1028.4,192.6 1032.2,190.4 1035.9,210.5 1039.6,180.4 1043.3,197.1 1047.0,196.7 1050.8,155.3 1054.5,192.9 1058.2,186.7 1061.9,176.6 1065.6,183.2 1069.4,189.2 1073.1,172.9 1076.8,185.1 1080.5,206.7 1084.2,192.6 1088.0,177.9 1091.7,182.9 1095.4,167.8 1099.1,157.8 1102.8,158.2 1106.6,169.1 1110.3,161.6 1114.0,174.3 1117.7,187.9 1121.4,160.3 1125.2,162.7 1128.9,167.9 1132.6,179.2 1136.3,169.1 1140.0,181.3 1143.8,186.1 1147.5,198.0 1151.2,166.6 1154.9,172.3 1158.6,188.0 1162.4,196.7 1166.1,183.1 1169.8,171.6 1173.5,169.6 1177.2,170.4 1181.0,177.6 1184.7,194.2 1188.4,180.4 1192.1,182.7 1195.8,186.7 1199.6,164.1 1203.3,172.2 1207.0,175.4 1210.7,172.9 1214.4,145.3 1218.2,159.1 1221.9,159.1 1225.6,161.6 1229.3,156.6 1233.0,167.9 1236.8,162.9 1240.5,164.4 1244.2,170.4 1247.9,162.7 1251.6,166.6 1255.4,180.4 1259.1,171.9 1262.8,160.3 1266.5,160.3 1270.2,154.1 1274.0,157.8 1277.7,182.9 1281.4,157.8 1285.1,166.6 1288.8,164.1 1292.6,170.4 1296.3,164.1 1300.0,167.2 1303.7,162.6 1307.4,159.1 1311.2,169.1 1314.9,161.2 1318.6,144.1 1322.3,169.1 1326.0,172.9 1329.8,169.1 1333.5,165.4 1337.2,152.8 1340.9,160.7 1344.6,169.1 1348.4,162.9 1352.1,161.6 1355.8,156.6 1359.5,169.1 1363.2,165.4 1367.0,156.1 1370.7,144.1 1374.4,157.8 1378.1,165.4 1381.8,161.6 1385.6,148.0 1389.3,140.3 1393.0,164.1 1396.7,147.8 1400.4,144.1 1404.2,154.1 1407.9,150.3 1411.6,149.1 1415.3,144.1 1419.0,145.3 1422.8,152.2 1426.5,154.2 1430.2,159.1 1433.9,145.2 1437.6,137.8 1441.4,152.5 1445.1,162.9 1448.8,141.5 1452.5,140.9 1456.2,141.5 1460.0,132.3 1463.7,132.8 1467.4,137.9 1471.1,143.4 1474.8,147.8 1478.6,109.0 1482.3,122.7 1486.0,131.5 1489.7,134.8 1493.4,136.5 1497.2,130.9 1500.9,132.8 1504.6,121.5 1508.3,114.0 1512.0,126.5 1515.8,102.7 1519.5,119.0 1523.2,137.8 1526.9,130.3 1530.6,131.5 1534.4,115.2 1538.1,134.0 1541.8,130.0 1545.5,119.0 1549.2,127.8 1553.0,117.4 1556.7,119.0 1560.4,120.2 1564.1,124.0 1567.8,127.8 1571.6,126.5 1575.3,141.5 1579.0,130.6 1582.7,119.0 1586.4,117.7 1590.2,126.5 1593.9,122.3 1597.6,124.0 1601.3,129.0 1605.0,127.8 1608.8,134.0 1612.5,122.7 1616.2,116.5 1619.9,126.5 1623.6,114.0 1627.4,124.0 1631.1,121.1 1634.8,120.2 1638.5,121.5 1642.2,125.2 1646.0,120.6 1649.7,114.0 1653.4,131.5" fill="none" stroke="#ff7f0e" stroke-width="5.0" stroke-opacity="1" stroke-linejoin="round" stroke-linecap="square"/>
<polyline points="184.0,713.7 187.7,712.7 191.4,710.5 195.2,714.5 198.9,716.0 202.6,712.6 206.3,708.6 210.0,707.2 213.8,716.0 217.5,716.0 221.2,713.6 224.9,704.6 228.6,706.2 232.4,716.0 236.1,713.2 239.8,701.6 243.5,711.5 247.2,712.0 251.0,700.7 254.7,699.0 258.4,698.9 262.1,707.8 265.8,705.7 269.6,703.7 273.3,711.3 277.0,715.4 280.7,712.0 284.4,706.7 288.2,698.5 291.9,700.7 295.6,698.6 299.3,712.0 303.0,706.1 306.8,700.7 310.5,698.1 314.2,708.2 317.9,697.9 321.6,692.5 325.4,696.9 329.1,704.4 332.8,705.8 336.5,697.4 340.2,675.5 344.0,681.9 347.7,699.4 351.4,700.2 355.1,700.7 358.8,712.0 362.6,699.9 366.3,690.6 370.0,703.3 373.7,704.4 377.4,676.9 381.2,677.2 384.9,690.6 388.6,685.6 392.3,690.6 396.0,671.8 399.8,695.8 403.5,690.6 407.2,679.4 410.9,658.0 414.6,664.4 418.4,678.1 422.1,685.6 425.8,654.3 429.5,660.6 433.2,630.5 437.0,649.8 440.7,661.8 444.4,616.7 448.1,634.2 451.8,634.2 455.6,559.0 459.3,570.3 463.0,607.9 466.7,611.7 470.4,592.9 474.2,598.0 477.9,591.6 481.6,512.6 485.3,597.9 489.0,564.7 492.8,526.4 496.5,550.2 500.2,552.7 503.9,462.9 507.6,494.2 511.4,487.0 515.1,506.4 518.8,508.0 522.5,454.7 526.2,470.0 530.0,482.2 533.7,369.2 537.4,465.7 541.1,428.1 544.8,399.3 548.6,390.5 552.3,378.0 556.0,380.5 559.7,368.6 563.4,362.9 567.2,372.9 570.9,370.4 574.6,304.0 578.3,332.8 582.0,332.8 585.8,295.2 589.5,320.3 593.2,291.5 596.9,273.9 600.6,284.7 604.4,295.2 608.1,302.7 611.8,360.4 615.5,390.5 619.2,360.4 623.0,302.7 626.7,350.4 630.4,361.7 634.1,330.3 637.8,315.3 641.6,297.7 645.3,335.3 649.0,297.7 652.7,305.2 656.4,297.7 660.2,335.3 663.9,320.3 667.6,335.3 671.3,315.3 675.0,287.7 678.8,325.3 682.5,347.9 686.2,335.3 689.9,329.0 693.6,315.3 697.4,337.8 701.1,342.9 704.8,306.5 708.5,315.3 712.2,322.8 716.0,297.7 719.7,332.8 723.4,317.8 727.1,320.3 730.8,292.7 734.6,306.5 738.3,287.7 742.0,285.2 745.7,305.2 749.4,325.3 753.2,340.3 756.9,327.8 760.6,292.7 764.3,291.5 768.0,310.3 771.8,306.5 775.5,257.6 779.2,295.2 782.9,282.7 786.6,272.7 790.4,252.0 794.1,242.6 797.8,245.1 801.5,272.7 805.2,290.2 809.0,283.9 812.7,285.2 816.4,277.7 820.1,267.6 823.8,255.1 827.6,277.7 831.3,300.2 835.0,273.9 838.7,285.2 842.4,267.6 846.2,252.6 849.9,278.9 853.6,295.2 857.3,292.7 861.0,255.1 864.8,305.2 868.5,297.7 872.2,317.8 875.9,267.6 879.6,292.7 883.4,270.1 887.1,275.2 890.8,292.7 894.5,287.7 898.2,300.2 902.0,302.7 905.7,316.5 909.4,273.9 913.1,285.2 916.8,307.8 920.6,256.4 924.3,278.9 928.0,272.7 931.7,292.7 935.4,268.9 939.2,273.9 942.9,268.9 946.6,267.6 950.3,245.1 954.0,242.6 957.8,300.2 961.5,305.2 965.2,322.8 968.9,295.2 972.6,319.0 976.4,273.9 980.1,265.1 983.8,242.6 987.5,252.6 991.2,251.3 995.0,266.4 998.7,251.3 1002.4,280.2 1006.1,250.1 1009.8,252.6 1013.6,220.0 1017.3,300.2 1021.0,321.5 1024.7,312.8 1028.4,287.7 1032.2,315.3 1035.9,297.7 1039.6,285.2 1043.3,279.2 1047.0,284.2 1050.8,270.1 1054.5,261.4 1058.2,275.4 1061.9,280.4 1065.6,240.9 1069.4,269.2 1073.1,269.2 1076.8,275.4 1080.5,267.3 1084.2,267.3 1088.0,305.2 1091.7,290.2 1095.4,289.0 1099.1,302.7 1102.8,267.9 1106.6,281.4 1110.3,266.6 1114.0,278.6 1117.7,256.0 1121.4,285.2 1125.2,277.3 1128.9,281.7 1132.6,257.2 1136.3,257.9 1140.0,263.1 1143.8,263.7 1147.5,253.1 1151.2,251.7 1154.9,240.6 1158.6,268.2 1162.4,248.6 1166.1,223.0 1169.8,238.1 1173.5,259.3 1177.2,266.7 1181.0,263.9 1184.7,260.6 1188.4,304.0 1192.1,238.1 1195.8,248.1 1199.6,253.5 1203.3,238.1 1207.0,233.6 1210.7,230.6 1214.4,250.0 1218.2,268.2 1221.9,241.4 1225.6,218.0 1229.3,222.5 1233.0,211.7 1236.8,249.4 1240.5,286.1 1244.2,239.2 1247.9,220.5 1251.6,217.3 1255.4,216.3 1259.1,216.8 1262.8,230.6 1266.5,241.8 1270.2,224.5 1274.0,215.5 1277.7,245.6 1281.4,248.4 1285.1,249.4 1288.8,261.9 1292.6,195.5 1296.3,225.5 1300.0,235.6 1303.7,245.1 1307.4,240.3 1311.2,195.5 1314.9,243.1 1318.6,232.1 1322.3,215.5 1326.0,219.3 1329.8,238.1 1333.5,223.0 1337.2,182.9 1340.9,192.3 1344.6,215.5 1348.4,192.9 1352.1,202.9 1355.8,220.5 1359.5,220.1 1363.2,235.6 1367.0,202.3 1370.7,200.5 1374.4,230.1 1378.1,235.6 1381.8,195.5 1385.6,248.1 1389.3,233.7 1393.0,198.0 1396.7,220.5 1400.4,190.4 1404.2,208.8 1407.9,228.0 1411.6,220.5 1415.3,182.9 1419.0,176.4 1422.8,170.4 1426.5,210.5 1430.2,190.4 1433.9,207.0 1437.6,225.5 1441.4,207.0 1445.1,187.9 1448.8,198.5 1452.5,195.5 1456.2,155.3 1460.0,168.4 1463.7,198.0 1467.4,188.8 1471.1,184.2 1474.8,200.5 1478.6,205.5 1482.3,196.7 1486.0,213.0 1489.7,185.4 1493.4,210.5 1497.2,194.2 1500.9,186.7 1504.6,182.9 1508.3,190.4 1512.0,199.2 1515.8,220.5 1519.5,226.8 1523.2,187.9 1526.9,170.4 1530.6,160.3 1534.4,175.4 1538.1,184.2 1541.8,190.4 1545.5,191.7 1549.2,187.9 1553.0,176.6 1556.7,180.4 1560.4,185.4 1564.1,170.4 1567.8,186.7 1571.6,195.5 1575.3,206.7 1579.0,200.5 1582.7,180.4 1586.4,198.0 1590.2,172.9 1593.9,175.4 1597.6,195.5 1601.3,205.5 1605.0,208.0 1608.8,175.4 1612.5,198.0 1616.2,192.9 1619.9,187.9 1623.6,176.6 1627.4,182.9 1631.1,175.4 1634.8,182.9 1638.5,200.5 1642.2,177.9 1646.0,171.6 1649.7,174.1 1653.4,200.5" fill="none" stroke="#2ca02c" stroke-width="2.08" stroke-opacity="0.5" stroke-linejoin="round" stroke-linecap="square"/>
<polyline points="184.0,702.4 187.7,688.1 191.4,694.8 195.2,695.7 198.9,678.1 202.6,676.6 206.3,664.0 210.0,678.1 213.8,678.3 217.5,690.6 221.2,681.4 224.9,666.4 228.6,658.0 232.4,660.9 236.1,673.1 239.8,647.8 243.5,628.0 247.2,655.5 251.0,635.5 254.7,622.4 258.4,612.2 262.1,600.4 265.8,588.7 269.6,565.9 273.3,554.0 277.0,562.8 280.7,556.3 284.4,522.7 288.2,500.9 291.9,482.5 295.6,470.0 299.3,423.1 303.0,433.1 306.8,403.0 310.5,418.1 314.2,355.4 317.9,308.0 321.6,300.2 325.4,297.7 329.1,241.6 332.8,232.9 336.5,220.3 340.2,226.1 344.0,238.1 347.7,258.1 351.4,238.1 355.1,265.5 358.8,273.2 362.6,263.3 366.3,258.4 370.0,237.9 373.7,228.0 377.4,230.9 381.2,225.5 384.9,213.0 388.6,227.6 392.3,253.1 396.0,233.2 399.8,248.1 403.5,260.3 407.2,265.7 410.9,245.6 414.6,220.0 418.4,208.0 422.1,202.5 425.8,225.5 429.5,244.3 433.2,253.1 437.0,234.3 440.7,245.6 444.4,246.6 448.1,243.1 451.8,245.4 455.6,225.5 459.3,225.5 463.0,220.5 466.7,240.4 470.4,240.6 474.2,231.7 477.9,228.0 481.6,238.6 485.3,230.8 489.0,229.6 492.8,223.0 496.5,233.0 500.2,238.1 503.9,228.3 507.6,224.1 511.4,225.5 515.1,220.3 518.8,231.4 522.5,240.6 526.2,237.1 530.0,234.6 533.7,216.8 537.4,220.5 541.1,229.3 544.8,238.1 548.6,238.4 552.3,228.0 556.0,232.1 559.7,240.6 563.4,236.4 567.2,241.3 570.9,233.1 574.6,228.2 578.3,220.6 582.0,215.5 585.8,215.8 589.5,213.0 593.2,231.0 596.9,238.5 600.6,235.6 604.4,236.5 608.1,238.0 611.8,245.6 615.5,227.1 619.2,240.6 623.0,238.0 626.7,211.4 630.4,203.6 634.1,200.5 637.8,216.6 641.6,236.7 645.3,248.1 649.0,238.6 652.7,237.2 656.4,224.7 660.2,215.5 663.9,231.6 667.6,246.8 671.3,248.1 675.0,236.1 678.8,221.1 682.5,226.7 686.2,205.5 689.9,209.4 693.6,214.3 697.4,226.9 701.1,224.6 704.8,235.6 708.5,228.1 712.2,231.1 716.0,203.0 719.7,206.6 723.4,209.8 727.1,225.5 730.8,214.2 734.6,195.5 738.3,200.5 742.0,207.8 745.7,211.3 749.4,216.5 753.2,220.5 756.9,212.3 760.6,210.5 764.3,208.4 768.0,213.8 771.8,220.5 775.5,210.7 779.2,211.5 782.9,195.1 786.6,190.4 790.4,193.0 794.1,188.7 797.8,192.9 801.5,177.9 805.2,140.3 809.0,195.5 812.7,193.9 816.4,196.3 820.1,193.5 823.8,185.4 827.6,185.0 831.3,193.7 835.0,178.9 838.7,178.4 842.4,177.9 846.2,170.3 849.9,170.4 853.6,170.8 857.3,172.2 861.0,150.3 864.8,143.9 868.5,142.8 872.2,150.3 875.9,147.5 879.6,152.8 883.4,139.5 887.1,126.5 890.8,130.0 894.5,142.8 898.2,142.8 902.0,126.0 905.7,122.7 909.4,135.3 913.1,135.0 916.8,132.8 920.6,115.2 924.3,134.6 928.0,145.3 931.7,127.8 935.4,117.8 939.2,105.2 942.9,105.2 946.6,127.8 950.3,114.8 954.0,131.1 957.8,125.8 961.5,125.2 965.2,127.3 968.9,130.3 972.6,136.1 976.4,133.0 980.1,140.3 983.8,119.3 987.5,97.7 991.2,104.5 995.0,108.1 998.7,120.8 1002.4,130.3 1006.1,119.1 1009.8,110.2 1013.6,117.4 1017.3,117.8 1021.0,94.7 1024.7,107.7 1028.4,120.6 1032.2,135.3 1035.9,129.0 1039.6,115.2 1043.3,111.6 1047.0,132.8 1050.8,112.7 1054.5,116.0 1058.2,109.1 1061.9,124.5 1065.6,122.7 1069.4,112.2 1073.1,113.1 1076.8,115.2 1080.5,113.1 1084.2,131.2 1088.0,122.3 1091.7,122.7 1095.4,111.0 1099.1,110.2 1102.8,128.8 1106.6,114.0 1110.3,118.6 1114.0,120.2 1117.7,118.1 1121.4,132.4 1125.2,110.9 1128.9,112.7 1132.6,118.8 1136.3,127.1 1140.0,127.8 1143.8,132.6 1147.5,111.9 1151.2,105.2 1154.9,99.9 1158.6,102.6 1162.4,112.9 1166.1,110.2 1169.8,113.0 1173.5,113.7 1177.2,102.7 1181.0,105.4 1184.7,113.6 1188.4,114.4 1192.1,112.7 1195.8,114.5 1199.6,115.0 1203.3,102.7 1207.0,99.4 1210.7,106.0 1214.4,100.2 1218.2,100.0 1221.9,102.0 1225.6,103.0 1229.3,105.2 1233.0,88.2 1236.8,99.4 1240.5,92.7 1244.2,92.8 1247.9,114.8 1251.6,110.2 1255.4,102.6 1259.1,104.1 1262.8,88.2 1266.5,95.2 1270.2,113.0 1274.0,98.9 1277.7,110.2 1281.4,104.6 1285.1,107.1 1288.8,95.5 1292.6,90.1 1296.3,91.2 1300.0,101.5 1303.7,105.2 1307.4,92.4 1311.2,101.1 1314.9,95.2 1318.6,80.8 1322.3,85.4 1326.0,93.7 1329.8,85.1 1333.5,95.9 1337.2,104.2 1340.9,97.7 1344.6,77.2 1348.4,72.6 1352.1,83.7 1355.8,95.2 1359.5,95.4 1363.2,95.6 1367.0,90.1 1370.7,94.8 1374.4,91.9 1378.1,97.7 1381.8,86.1 1385.6,81.6 1389.3,90.1 1393.0,84.9 1396.7,88.4 1400.4,99.4 1404.2,100.2 1407.9,115.6 1411.6,96.6 1415.3,85.1 1419.0,91.8 1422.8,90.1 1426.5,84.1 1430.2,90.1 1433.9,78.5 1437.6,77.6 1441.4,90.1 1445.1,87.1 1448.8,108.7 1452.5,105.2 1456.2,85.6 1460.0,82.6 1463.7,77.6 1467.4,89.1 1471.1,90.1 1474.8,85.9 1478.6,79.6 1482.3,75.1 1486.0,89.8 1489.7,92.7 1493.4,93.2 1497.2,85.1 1500.9,96.4 1504.6,75.1 1508.3,75.0 1512.0,87.6 1515.8,79.8 1519.5,77.6 1523.2,82.3 1526.9,85.1 1530.6,76.8 1534.4,77.6 1538.1,61.4 1541.8,74.7 1545.5,82.6 1549.2,75.1 1553.0,72.7 1556.7,80.1 1560.4,87.9 1564.1,87.6 1567.8,77.3 1571.6,88.3 1575.3,83.4 1579.0,84.9 1582.7,77.6 1586.4,89.1 1590.2,76.4 1593.9,78.5 1597.6,78.6 1601.3,85.1 1605.0,84.9 1608.8,72.6 1612.5,75.8 1616.2,63.8 1619.9,80.1 1623.6,83.3 1627.4,74.7 1631.1,72.6 1634.8,74.1 1638.5,71.3 1642.2,71.2 1646.0,68.8 1649.7,81.4 1653.4,75.1" fill="none" stroke="#2ca02c" stroke-width="2.08" stroke-opacity="0.5" stroke-linejoin="round" stroke-linecap="square"/>
<polyline points="184.0,711.7 187.7,710.7 191.4,707.9 195.2,703.2 198.9,705.9 202.6,704.5 206.3,703.2 210.0,703.7 213.8,701.8 217.5,699.4 221.2,696.6 224.9,695.2 228.6,690.6 232.4,687.6 236.1,684.2 239.8,683.1 243.5,683.2 247.2,682.2 251.0,683.1 254.7,670.6 258.4,668.1 262.1,665.6 265.8,651.8 269.6,661.1 273.3,664.3 277.0,641.1 280.7,629.2 284.4,626.1 288.2,625.5 291.9,600.4 295.6,590.0 299.3,563.6 303.0,550.2 306.8,544.5 310.5,526.4 314.2,485.0 317.9,467.6 321.6,453.2 325.4,405.5 329.1,405.5 332.8,389.3 336.5,380.5 340.2,372.7 344.0,365.4 347.7,327.8 351.4,365.4 355.1,375.5 358.8,322.8 362.6,302.0 366.3,277.7 370.0,290.2 373.7,267.6 377.4,292.7 381.2,291.2 384.9,292.7 388.6,315.3 392.3,367.9 396.0,336.6 399.8,352.9 403.5,340.3 407.2,349.1 410.9,315.3 414.6,306.5 418.4,317.8 422.1,261.4 425.8,300.2 429.5,300.2 433.2,317.8 437.0,312.8 440.7,289.0 444.4,282.2 448.1,267.2 451.8,257.6 455.6,265.1 459.3,290.2 463.0,301.0 466.7,306.5 470.4,280.2 474.2,274.0 477.9,267.1 481.6,262.6 485.3,287.7 489.0,268.9 492.8,282.7 496.5,268.9 500.2,297.7 503.9,285.8 507.6,277.7 511.4,247.6 515.1,258.4 518.8,266.4 522.5,266.5 526.2,265.1 530.0,280.2 533.7,278.3 537.4,270.1 541.1,291.5 544.8,289.7 548.6,287.7 552.3,255.1 556.0,275.7 559.7,300.2 563.4,291.1 567.2,282.7 570.9,290.2 574.6,270.1 578.3,270.1 582.0,280.2 585.8,272.7 589.5,290.2 593.2,265.6 596.9,245.1 600.6,252.0 604.4,260.1 608.1,275.2 611.8,277.0 615.5,276.7 619.2,280.7 623.0,268.2 626.7,273.9 630.4,275.7 634.1,260.6 637.8,280.7 641.6,267.5 645.3,250.6 649.0,265.7 652.7,260.6 656.4,269.9 660.2,273.2 663.9,283.2 667.6,274.6 671.3,268.2 675.0,272.0 678.8,278.2 682.5,265.1 686.2,253.1 689.9,258.4 693.6,265.7 697.4,248.1 701.1,273.2 704.8,262.4 708.5,258.1 712.2,269.9 716.0,282.0 719.7,281.5 723.4,276.7 727.1,275.3 730.8,275.2 734.6,271.9 738.3,258.0 742.0,253.5 745.7,240.6 749.4,260.6 753.2,254.6 756.9,252.8 760.6,250.6 764.3,233.3 768.0,223.0 771.8,253.1 775.5,243.1 779.2,233.1 782.9,222.3 786.6,213.0 790.4,240.6 794.1,218.0 797.8,227.5 801.5,233.1 805.2,224.9 809.0,215.5 812.7,208.4 816.4,201.9 820.1,195.5 823.8,208.0 827.6,210.5 831.3,209.2 835.0,218.0 838.7,203.8 842.4,192.9 846.2,195.5 849.9,194.2 853.6,196.3 857.3,195.5 861.0,185.1 864.8,180.4 868.5,183.9 872.2,178.7 875.9,182.9 879.6,181.9 883.4,180.4 887.1,200.5 890.8,189.1 894.5,180.4 898.2,185.8 902.0,177.3 905.7,187.9 909.4,174.9 913.1,171.6 916.8,174.2 920.6,177.5 924.3,177.9 928.0,188.4 931.7,187.9 935.4,165.4 939.2,176.6 942.9,167.5 946.6,162.4 950.3,155.3 954.0,182.9 957.8,155.3 961.5,164.5 965.2,176.9 968.9,185.4 972.6,167.8 976.4,151.6 980.1,159.3 983.8,167.9 987.5,169.8 991.2,162.9 995.0,161.9 998.7,163.0 1002.4,162.9 1006.1,171.4 1009.8,175.4 1013.6,168.3 1017.3,160.0 1021.0,155.3 1024.7,154.0 1028.4,160.3 1032.2,150.7 1035.9,147.8 1039.6,160.3 1043.3,198.0 1047.0,162.9 1050.8,167.9 1054.5,147.8 1058.2,165.4 1061.9,147.8 1065.6,171.6 1069.4,152.8 1073.1,145.7 1076.8,145.3 1080.5,159.1 1084.2,160.3 1088.0,142.8 1091.7,162.9 1095.4,150.4 1099.1,141.5 1102.8,147.8 1106.6,154.1 1110.3,150.3 1114.0,142.4 1117.7,136.5 1121.4,147.8 1125.2,147.8 1128.9,161.6 1132.6,152.8 1136.3,159.1 1140.0,160.3 1143.8,152.3 1147.5,141.5 1151.2,159.1 1154.9,152.6 1158.6,137.1 1162.4,134.0 1166.1,170.4 1169.8,142.8 1173.5,152.8 1177.2,135.3 1181.0,147.8 1184.7,140.3 1188.4,140.9 1192.1,145.3 1195.8,126.5 1199.6,129.0 1203.3,154.1 1207.0,117.7 1210.7,142.8 1214.4,140.3 1218.2,126.8 1221.9,124.0 1225.6,150.3 1229.3,129.0 1233.0,135.3 1236.8,141.5 1240.5,126.5 1244.2,125.2 1247.9,120.2 1251.6,144.1 1255.4,134.0 1259.1,131.5 1262.8,134.0 1266.5,121.5 1270.2,127.8 1274.0,112.7 1277.7,131.5 1281.4,140.3 1285.1,115.2 1288.8,125.2 1292.6,132.5 1296.3,129.0 1300.0,129.0 1303.7,135.3 1307.4,117.7 1311.2,114.0 1314.9,119.0 1318.6,119.4 1322.3,121.5 1326.0,124.6 1329.8,127.8 1333.5,123.7 1337.2,114.0 1340.9,117.7 1344.6,119.6 1348.4,125.2 1352.1,116.6 1355.8,110.2 1359.5,121.5 1363.2,114.0 1367.0,121.5 1370.7,117.7 1374.4,120.2 1378.1,117.7 1381.8,136.5 1385.6,140.3 1389.3,120.2 1393.0,121.5 1396.7,116.5 1400.4,101.4 1404.2,121.5 1407.9,131.5 1411.6,121.5 1415.3,117.1 1419.0,112.7 1422.8,117.7 1426.5,115.3 1430.2,109.0 1433.9,121.5 1437.6,128.8 1441.4,126.5 1445.1,122.7 1448.8,127.8 1452.5,107.7 1456.2,114.0 1460.0,126.5 1463.7,126.5 1467.4,120.5 1471.1,110.8 1474.8,112.7 1478.6,106.4 1482.3,103.9 1486.0,107.7 1489.7,111.5 1493.4,112.7 1497.2,105.2 1500.9,121.5 1504.6,112.7 1508.3,112.7 1512.0,120.2 1515.8,117.7 1519.5,114.0 1523.2,119.0 1526.9,112.7 1530.6,115.2 1534.4,110.2 1538.1,106.4 1541.8,109.4 1545.5,105.2 1549.2,100.2 1553.0,99.0 1556.7,95.2 1560.4,96.4 1564.1,102.7 1567.8,103.0 1571.6,106.4 1575.3,100.5 1579.0,102.7 1582.7,108.6 1586.4,111.5 1590.2,98.9 1593.9,97.2 1597.6,92.6 1601.3,88.9 1605.0,100.2 1608.8,111.5 1612.5,96.4 1616.2,93.9 1619.9,94.9 1623.6,96.4 1627.4,96.4 1631.1,98.5 1634.8,105.2 1638.5,93.9 1642.2,92.3 1646.0,91.4 1649.7,90.1 1653.4,86.4" fill="none" stroke="#2ca02c" stroke-width="5.0" stroke-opacity="1" stroke-linejoin="round" stroke-linecap="square"/>
<polyline points="184.0,673.7 185.9,677.6 187.7,671.8 189.6,669.6 191.4,673.2 193.3,668.2 195.2,666.4 197.0,665.6 198.9,673.7 200.7,668.2 202.6,665.5 204.5,655.2 206.3,661.6 208.2,649.5 210.0,655.4 211.9,644.7 213.8,656.9 215.6,636.1 217.5,647.1 219.3,641.1 221.2,623.5 223.1,625.4 224.9,627.1 226.8,617.9 228.6,595.6 230.5,592.6 232.4,580.4 234.2,572.3 236.1,565.8 237.9,570.3 239.8,554.1 241.7,545.1 243.5,537.7 245.4,535.7 247.2,528.4 249.1,512.1 251.0,515.5 252.8,493.3 254.7,487.7 256.5,481.4 258.4,478.0 260.3,458.1 262.1,452.6 264.0,449.6 265.8,438.4 267.7,434.0 269.6,427.2 271.4,417.4 273.3,414.3 275.1,410.9 277.0,401.0 278.9,404.7 280.7,381.1 282.6,381.6 284.4,388.9 286.3,378.6 288.2,368.2 290.0,369.3 291.9,369.1 293.7,356.2 295.6,359.7 297.5,351.5 299.3,348.4 301.2,345.9 303.0,349.7 304.9,334.4 306.8,335.6 308.6,338.3 310.5,324.7 312.3,319.5 314.2,328.8 316.1,322.7 317.9,319.0 319.8,318.0 321.6,308.8 323.5,329.1 325.4,304.3 327.2,305.7 329.1,298.4 330.9,303.1 332.8,313.6 334.7,303.9 336.5,306.8 338.4,299.7 340.2,312.6 342.1,301.1 344.0,290.6 345.8,300.9 347.7,291.8 349.5,295.6 351.4,290.3 353.3,288.7 355.1,285.7 357.0,277.4 358.8,274.3 360.7,286.6 362.6,278.6 364.4,280.3 366.3,274.6 368.1,263.7 370.0,267.6 371.9,284.1 373.7,269.1 375.6,271.0 377.4,263.1 379.3,268.5 381.2,268.7 383.0,268.9 384.9,269.0 386.7,264.5 388.6,264.0 390.5,266.9 392.3,268.3 394.2,264.3 396.0,276.4 397.9,265.2 399.8,264.1 401.6,264.4 403.5,268.8 405.3,253.9 407.2,249.2 409.1,253.0 410.9,263.5 412.8,250.6 414.6,267.2 416.5,257.4 418.4,246.3 420.2,255.0 422.1,269.0 423.9,249.6 425.8,246.0 427.7,258.6 429.5,263.7 431.4,261.1 433.2,250.8 435.1,253.8 437.0,253.6 438.8,258.0 440.7,263.1 442.5,244.9 444.4,253.1 446.3,239.4 448.1,244.3 450.0,231.5 451.8,231.1 453.7,238.5 455.6,228.5 457.4,241.5 459.3,231.7 461.1,236.9 463.0,236.5 464.9,235.4 466.7,239.2 468.6,246.2 470.4,260.6 472.3,236.5 474.2,239.4 476.0,236.4 477.9,235.0 479.7,240.4 481.6,232.0 483.5,237.4 485.3,246.3 487.2,221.9 489.0,237.1 490.9,237.2 492.8,225.7 494.6,235.2 496.5,232.9 498.3,227.0 500.2,237.5 502.1,218.8 503.9,232.4 505.8,225.7 507.6,219.6 509.5,225.7 511.4,224.2 513.2,232.4 515.1,215.6 516.9,224.8 518.8,222.9 520.7,237.4 522.5,217.9 524.4,233.6 526.2,213.3 528.1,228.4 530.0,225.0 531.8,228.6 533.7,220.9 535.5,211.8 537.4,214.7 539.3,235.1 541.1,226.9 543.0,218.8 544.8,231.1 546.7,218.7 548.6,218.2 550.4,215.5 552.3,230.7 554.1,235.6 556.0,213.9 557.9,222.3 559.7,226.8 561.6,234.5 563.4,201.7 565.3,219.7 567.2,223.1 569.0,207.7 570.9,221.2 572.7,219.7 574.6,223.5 576.5,214.0 578.3,221.2 580.2,213.7 582.0,222.2 583.9,218.7 585.8,214.6 587.6,206.7 589.5,228.4 591.3,224.1 593.2,222.0 595.1,210.4 596.9,212.2 598.8,226.5 600.6,219.9 602.5,208.6 604.4,215.3 606.2,216.2 608.1,213.8 609.9,208.6 611.8,224.5 613.7,219.7 615.5,214.0 617.4,204.1 619.2,211.1 621.1,215.4 623.0,221.7 624.8,212.8 626.7,223.5 628.5,216.5 630.4,210.0 632.3,195.2 634.1,206.7 636.0,204.4 637.8,213.9 639.7,217.3 641.6,224.9 643.4,214.7 645.3,206.3 647.1,231.5 649.0,216.8 650.9,212.5 652.7,212.4 654.6,204.5 656.4,218.7 658.3,216.8 660.2,225.4 662.0,221.8 663.9,220.1 665.7,222.8 667.6,211.6 669.5,210.3 671.3,213.0 673.2,204.3 675.0,212.0 676.9,210.6 678.8,217.6 680.6,212.5 682.5,198.7 684.3,212.4 686.2,222.2 688.1,198.6 689.9,206.2 691.8,211.6 693.6,201.8 695.5,207.2 697.4,211.4 699.2,201.3 701.1,212.7 702.9,213.4 704.8,201.1 706.7,210.3 708.5,217.7 710.4,208.4 712.2,212.7 714.1,214.0 716.0,207.5 717.8,216.1 719.7,211.7 721.5,201.7 723.4,212.5 725.3,214.9 727.1,214.4 729.0,204.0 730.8,212.0 732.7,218.5 734.6,210.3 736.4,217.2 738.3,218.0 740.1,208.4 742.0,213.4 743.9,206.5 745.7,216.3 747.6,224.8 749.4,204.5 751.3,208.2 753.2,207.8 755.0,211.0 756.9,211.6 758.7,199.8 760.6,203.4 762.5,210.6 764.3,211.5 766.2,208.5 768.0,226.8 769.9,216.5 771.8,207.1 773.6,212.8 775.5,217.1 777.3,210.0 779.2,194.6 781.1,207.8 782.9,207.3 784.8,222.1 786.6,212.6 788.5,217.6 790.4,205.2 792.2,212.9 794.1,203.9 795.9,207.1 797.8,213.9 799.7,206.2 801.5,213.0 803.4,204.7 805.2,202.2 807.1,203.4 809.0,201.2 810.8,203.8 812.7,214.3 814.5,196.0 816.4,196.1 818.3,204.0 820.1,216.1 822.0,211.3 823.8,213.2 825.7,212.5 827.6,198.1 829.4,204.0 831.3,187.6 833.1,198.5 835.0,207.1 836.9,191.4 838.7,187.6 840.6,192.9 842.4,203.7 844.3,210.4 846.2,220.5 848.0,212.0 849.9,196.1 851.7,184.7 853.6,202.4 855.5,208.8 857.3,189.3 859.2,197.1 861.0,197.5 862.9,200.8 864.8,199.1 866.6,204.0 868.5,207.8 870.3,200.6 872.2,205.4 874.1,214.2 875.9,192.4 877.8,192.2 879.6,203.3 881.5,212.9 883.4,200.8 885.2,207.4 887.1,199.1 888.9,206.0 890.8,194.8 892.7,204.2 894.5,202.1 896.4,202.0 898.2,209.1 900.1,206.8 902.0,194.8 903.8,205.4 905.7,186.7 907.5,206.0 909.4,218.7 911.3,202.7 913.1,202.4 915.0,199.2 916.8,204.7 918.7,195.4" fill="none" stroke="#d62728" stroke-width="1.3" stroke-opacity="0.6" stroke-linejoin="round" stroke-linecap="butt" stroke-dasharray="4.81,2.08"/>
<polyline points="184.0,630.4 185.9,639.7 187.7,623.4 189.6,628.1 191.4,625.6 193.3,620.7 195.2,616.6 197.0,609.5 198.9,602.6 200.7,607.9 202.6,605.8 204.5,605.6 206.3,584.5 208.2,569.3 210.0,562.4 211.9,555.2 213.8,549.5 215.6,543.1 217.5,533.7 219.3,522.9 221.2,528.0 223.1,506.8 224.9,511.3 226.8,495.7 228.6,489.4 230.5,478.5 232.4,472.4 234.2,463.0 236.1,448.0 237.9,443.7 239.8,415.0 241.7,423.2 243.5,417.1 245.4,409.7 247.2,406.5 249.1,408.9 251.0,391.4 252.8,383.2 254.7,388.6 256.5,374.9 258.4,376.8 260.3,364.7 262.1,357.1 264.0,351.3 265.8,346.8 267.7,338.9 269.6,335.4 271.4,339.1 273.3,330.6 275.1,325.0 277.0,327.7 278.9,330.4 280.7,316.1 282.6,323.2 284.4,318.5 286.3,316.5 288.2,301.4 290.0,304.2 291.9,312.1 293.7,292.3 295.6,262.8 297.5,279.6 299.3,291.3 301.2,284.7 303.0,279.7 304.9,275.4 306.8,279.0 308.6,284.7 310.5,271.8 312.3,271.7 314.2,283.3 316.1,276.1 317.9,270.5 319.8,270.3 321.6,264.6 323.5,260.4 325.4,259.5 327.2,261.3 329.1,243.3 330.9,240.0 332.8,235.3 334.7,237.5 336.5,249.3 338.4,248.0 340.2,236.6 342.1,235.4 344.0,241.7 345.8,237.9 347.7,247.0 349.5,236.5 351.4,245.3 353.3,239.2 355.1,238.2 357.0,214.9 358.8,250.1 360.7,239.9 362.6,230.5 364.4,232.2 366.3,233.4 368.1,226.3 370.0,223.3 371.9,221.0 373.7,232.0 375.6,224.9 377.4,226.5 379.3,229.4 381.2,233.2 383.0,221.9 384.9,211.3 386.7,203.1 388.6,219.1 390.5,219.2 392.3,219.7 394.2,201.6 396.0,222.3 397.9,215.6 399.8,219.5 401.6,213.9 403.5,212.5 405.3,203.0 407.2,222.0 409.1,210.4 410.9,196.8 412.8,212.6 414.6,208.5 416.5,212.2 418.4,223.9 420.2,201.8 422.1,189.5 423.9,200.7 425.8,200.1 427.7,190.0 429.5,189.0 431.4,179.5 433.2,178.8 435.1,187.0 437.0,180.3 438.8,197.0 440.7,172.3 442.5,178.9 444.4,170.8 446.3,169.8 448.1,179.4 450.0,178.2 451.8,184.1 453.7,193.9 455.6,178.5 457.4,155.9 459.3,187.0 461.1,173.3 463.0,179.0 464.9,175.2 466.7,183.8 468.6,190.5 470.4,168.7 472.3,168.9 474.2,173.8 476.0,175.5 477.9,173.6 479.7,172.0 481.6,174.6 483.5,186.5 485.3,163.6 487.2,158.1 489.0,138.2 490.9,171.9 492.8,167.2 494.6,182.2 496.5,159.3 498.3,163.7 500.2,162.7 502.1,158.7 503.9,175.4 505.8,194.4 507.6,166.3 509.5,125.3 511.4,159.6 513.2,173.3 515.1,169.6 516.9,166.3 518.8,162.3 520.7,173.4 522.5,172.7 524.4,154.2 526.2,171.8 528.1,153.1 530.0,165.0 531.8,178.0 533.7,145.9 535.5,171.2 537.4,157.8 539.3,148.6 541.1,166.4 543.0,171.8 544.8,153.3 546.7,161.1 548.6,171.6 550.4,170.4 552.3,164.8 554.1,153.8 556.0,163.8 557.9,156.1 559.7,147.8 561.6,150.6 563.4,149.0 565.3,150.3 567.2,172.9 569.0,149.5 570.9,156.3 572.7,159.5 574.6,167.0 576.5,148.8 578.3,149.0 580.2,157.8 582.0,167.1 583.9,164.2 585.8,162.7 587.6,152.5 589.5,160.2 591.3,158.9 593.2,146.9 595.1,160.3 596.9,152.9 598.8,161.5 600.6,155.6 602.5,157.5 604.4,157.3 606.2,162.7 608.1,167.4 609.9,161.4 611.8,162.7 613.7,150.4 615.5,151.4 617.4,168.4 619.2,153.5 621.1,162.4 623.0,133.9 624.8,162.2 626.7,170.2 628.5,149.9 630.4,154.4 632.3,167.9 634.1,171.0 636.0,162.2 637.8,167.3 639.7,160.6 641.6,152.6 643.4,145.6 645.3,160.3 647.1,146.1 649.0,147.7 650.9,160.6 652.7,170.4 654.6,149.8 656.4,151.6 658.3,137.3 660.2,144.6 662.0,149.7 663.9,142.2 665.7,164.2 667.6,153.9 669.5,157.5 671.3,141.0 673.2,150.4 675.0,179.6 676.9,143.5 678.8,161.8 680.6,148.0 682.5,158.0 684.3,151.9 686.2,148.6 688.1,152.0 689.9,161.1 691.8,141.8 693.6,149.8 695.5,153.0 697.4,147.1 699.2,157.0 701.1,115.5 702.9,150.8 704.8,149.6 706.7,149.7 708.5,159.9 710.4,162.1 712.2,150.8 714.1,121.3 716.0,141.7 717.8,148.9 719.7,161.4 721.5,148.4 723.4,145.9 725.3,144.5 727.1,150.0 729.0,162.6 730.8,143.3 732.7,158.6 734.6,148.1 736.4,163.5 738.3,146.5 740.1,159.1 742.0,144.0 743.9,138.5 745.7,143.4 747.6,162.4 749.4,160.6 751.3,160.1 753.2,147.7 755.0,150.3 756.9,151.8 758.7,150.5 760.6,148.3 762.5,147.8 764.3,139.3 766.2,153.5 768.0,151.4 769.9,168.0 771.8,125.5 773.6,158.6 775.5,162.6 777.3,151.2 779.2,144.6 781.1,156.5 782.9,156.9 784.8,157.1 786.6,151.9 788.5,157.4 790.4,148.8 792.2,150.5 794.1,150.2 795.9,146.8 797.8,152.7 799.7,151.8 801.5,125.2 803.4,153.3 805.2,146.5 807.1,152.5 809.0,156.6 810.8,156.6 812.7,159.6 814.5,152.8 816.4,157.8 818.3,156.3 820.1,143.0 822.0,154.0 823.8,114.1 825.7,150.7 827.6,145.9 829.4,157.8 831.3,151.7 833.1,131.5 835.0,146.1 836.9,144.7 838.7,150.9 840.6,145.9 842.4,162.2 844.3,159.7 846.2,149.4 848.0,114.0 849.9,156.2 851.7,154.5 853.6,152.1 855.5,116.9 857.3,162.9 859.2,164.9 861.0,154.0 862.9,167.5 864.8,159.4 866.6,159.0 868.5,162.3 870.3,151.9 872.2,157.5 874.1,154.7 875.9,162.3 877.8,160.2 879.6,150.1 881.5,151.4 883.4,158.2 885.2,151.6 887.1,153.1 888.9,153.5 890.8,141.9 892.7,158.2 894.5,151.6 896.4,151.7 898.2,157.1 900.1,147.5 902.0,149.8 903.8,153.4 905.7,155.2 907.5,155.5 909.4,155.6 911.3,149.4 913.1,153.6 915.0,170.0 916.8,156.3 918.7,168.4" fill="none" stroke="#d62728" stroke-width="1.3" stroke-opacity="0.6" stroke-linejoin="round" stroke-linecap="butt" stroke-dasharray="4.81,2.08"/>
<polyline points="184.0,659.6 185.9,670.0 187.7,667.7 189.6,651.4 191.4,651.4 193.3,647.2 195.2,653.9 197.0,645.9 198.9,649.9 200.7,624.9 202.6,651.0 204.5,634.0 206.3,637.2 208.2,626.1 210.0,619.1 211.9,620.3 213.8,616.6 215.6,600.0 217.5,591.9 219.3,590.3 221.2,568.0 223.1,553.8 224.9,561.7 226.8,544.6 228.6,526.4 230.5,528.7 232.4,524.8 234.2,511.6 236.1,501.4 237.9,506.2 239.8,504.7 241.7,485.7 243.5,471.6 245.4,471.1 247.2,464.1 249.1,446.1 251.0,444.7 252.8,440.9 254.7,422.4 256.5,410.2 258.4,414.1 260.3,407.6 262.1,410.2 264.0,384.2 265.8,384.7 267.7,378.2 269.6,365.0 271.4,376.4 273.3,374.6 275.1,358.1 277.0,372.5 278.9,362.9 280.7,356.9 282.6,350.7 284.4,351.9 286.3,327.4 288.2,342.1 290.0,339.1 291.9,314.1 293.7,330.6 295.6,321.9 297.5,328.3 299.3,313.6 301.2,314.3 303.0,314.6 304.9,300.0 306.8,311.0 308.6,301.4 310.5,304.2 312.3,292.0 314.2,305.2 316.1,298.7 317.9,289.5 319.8,296.0 321.6,301.0 323.5,305.2 325.4,271.7 327.2,294.9 329.1,289.5 330.9,282.3 332.8,271.1 334.7,291.2 336.5,263.9 338.4,279.6 340.2,284.4 342.1,252.7 344.0,263.4 345.8,251.3 347.7,265.3 349.5,277.0 351.4,281.0 353.3,241.2 355.1,252.3 357.0,264.3 358.8,272.3 360.7,259.4 362.6,246.4 364.4,256.2 366.3,252.0 368.1,249.1 370.0,242.5 371.9,253.3 373.7,251.4 375.6,246.1 377.4,243.7 379.3,231.4 381.2,238.8 383.0,255.8 384.9,240.0 386.7,225.6 388.6,254.4 390.5,244.9 392.3,261.1 394.2,238.2 396.0,231.7 397.9,220.2 399.8,249.6 401.6,262.4 403.5,224.7 405.3,225.8 407.2,238.8 409.1,222.5 410.9,228.0 412.8,226.6 414.6,232.0 416.5,241.3 418.4,229.0 420.2,238.3 422.1,223.0 423.9,230.5 425.8,202.1 427.7,207.8 429.5,230.5 431.4,213.3 433.2,224.3 435.1,222.0 437.0,228.8 438.8,221.4 440.7,222.0 442.5,208.6 444.4,201.7 446.3,201.1 448.1,203.6 450.0,196.4 451.8,202.8 453.7,208.0 455.6,212.0 457.4,205.9 459.3,189.0 461.1,210.0 463.0,214.1 464.9,224.2 466.7,219.1 468.6,205.8 470.4,204.8 472.3,234.5 474.2,220.1 476.0,230.9 477.9,233.0 479.7,199.2 481.6,211.1 483.5,210.8 485.3,210.9 487.2,209.8 489.0,205.4 490.9,204.5 492.8,185.6 494.6,200.1 496.5,193.4 498.3,202.8 500.2,196.1 502.1,207.8 503.9,209.9 505.8,204.1 507.6,204.1 509.5,201.6 511.4,195.6 513.2,198.7 515.1,195.0 516.9,204.7 518.8,200.6 520.7,206.9 522.5,185.9 524.4,210.2 526.2,191.9 528.1,192.1 530.0,197.7 531.8,193.3 533.7,202.3 535.5,192.3 537.4,186.3 539.3,188.1 541.1,211.1 543.0,196.5 544.8,182.5 546.7,194.9 548.6,177.2 550.4,213.5 552.3,176.8 554.1,198.5 556.0,199.1 557.9,177.0 559.7,196.2 561.6,203.9 563.4,198.1 565.3,195.8 567.2,203.2 569.0,194.4 570.9,196.2 572.7,190.8 574.6,198.9 576.5,181.2 578.3,199.9 580.2,185.1 582.0,178.2 583.9,193.8 585.8,208.0 587.6,199.7 589.5,183.2 591.3,196.4 593.2,183.7 595.1,187.3 596.9,189.8 598.8,163.5 600.6,191.3 602.5,178.1 604.4,182.0 606.2,173.6 608.1,173.3 609.9,179.7 611.8,199.2 613.7,208.5 615.5,189.8 617.4,202.1 619.2,187.1 621.1,168.9 623.0,191.4 624.8,194.6 626.7,184.9 628.5,192.8 630.4,195.7 632.3,179.8 634.1,173.0 636.0,186.7 637.8,186.7 639.7,185.1 641.6,199.7 643.4,207.7 645.3,184.1 647.1,196.3 649.0,198.8 650.9,196.2 652.7,199.8 654.6,183.9 656.4,196.2 658.3,210.2 660.2,196.7 662.0,180.9 663.9,194.2 665.7,201.2 667.6,191.2 669.5,180.8 671.3,203.8 673.2,172.9 675.0,192.0 676.9,186.1 678.8,172.9 680.6,199.3 682.5,189.5 684.3,172.7 686.2,191.9 688.1,180.4 689.9,164.0 691.8,177.2 693.6,187.5 695.5,191.4 697.4,186.0 699.2,184.5 701.1,189.0 702.9,181.3 704.8,196.4 706.7,185.0 708.5,186.5 710.4,189.1 712.2,171.4 714.1,175.2 716.0,199.7 717.8,186.6 719.7,179.8 721.5,186.7 723.4,177.6 725.3,186.0 727.1,175.6 729.0,186.0 730.8,165.6 732.7,197.6 734.6,177.3 736.4,165.5 738.3,180.5 740.1,178.8 742.0,184.6 743.9,170.3 745.7,187.3 747.6,222.8 749.4,168.9 751.3,186.6 753.2,179.5 755.0,185.0 756.9,163.0 758.7,170.2 760.6,187.9 762.5,182.3 764.3,200.7 766.2,174.9 768.0,184.5 769.9,214.5 771.8,173.9 773.6,172.3 775.5,181.8 777.3,181.6 779.2,191.3 781.1,183.3 782.9,173.5 784.8,184.0 786.6,210.6 788.5,195.5 790.4,150.8 792.2,179.8 794.1,171.6 795.9,188.0 797.8,179.1 799.7,202.2 801.5,191.1 803.4,190.6 805.2,182.7 807.1,180.1 809.0,184.2 810.8,194.6 812.7,186.2 814.5,176.3 816.4,194.1 818.3,182.1 820.1,179.1 822.0,171.1 823.8,173.5 825.7,172.7 827.6,148.8 829.4,190.7 831.3,185.6 833.1,176.9 835.0,190.7 836.9,183.9 838.7,183.1 840.6,151.7 842.4,176.3 844.3,184.6 846.2,196.3 848.0,198.8 849.9,194.1 851.7,165.6 853.6,154.1 855.5,184.5 857.3,178.4 859.2,188.6 861.0,176.6 862.9,180.4 864.8,161.4 866.6,182.8 868.5,173.0 870.3,181.8 872.2,183.0 874.1,176.6 875.9,181.4 877.8,177.8 879.6,186.3 881.5,183.4 883.4,171.9 885.2,171.4 887.1,197.1 888.9,176.8 890.8,188.8 892.7,182.2 894.5,171.7 896.4,169.7 898.2,179.2 900.1,180.7 902.0,184.7 903.8,164.0 905.7,171.4 907.5,176.9 909.4,195.5 911.3,151.9 913.1,182.7 915.0,172.0 916.8,182.6 918.7,172.5" fill="none" stroke="#d62728" stroke-width="5.0" stroke-opacity="1" stroke-linejoin="round" stroke-linecap="butt" stroke-dasharray="18.50,8.00"/>
<polyline points="918.7,123.8 922.4,126.0 926.1,135.4 929.9,123.0 933.6,117.8 937.3,109.7 941.0,117.2 944.7,118.4 948.5,110.2 952.2,135.4 955.9,116.0 959.6,119.4 963.3,129.8 967.1,105.8 970.8,136.2 974.5,108.7 978.2,112.3 981.9,120.7 985.7,132.4 989.4,125.0 993.1,115.0 996.8,136.4 1000.5,117.0 1004.3,110.2 1008.0,115.6 1011.7,112.9 1015.4,114.6 1019.1,115.4 1022.9,111.6 1026.6,119.9 1030.3,127.4 1034.0,130.6 1037.7,108.7 1041.5,121.7 1045.2,127.5 1048.9,119.9 1052.6,116.4 1056.3,122.0 1060.1,112.1 1063.8,127.3 1067.5,115.3 1071.2,138.6 1074.9,129.4 1078.7,120.9 1082.4,127.5 1086.1,124.0 1089.8,111.4 1093.5,128.6 1097.3,132.9 1101.0,105.7 1104.7,116.7 1108.4,114.2 1112.1,124.1 1115.9,121.1 1119.6,118.2 1123.3,122.7 1127.0,109.8 1130.7,120.2 1134.5,135.3 1138.2,137.1 1141.9,118.7 1145.6,119.0 1149.3,124.6 1153.1,111.8 1156.8,111.6 1160.5,138.8 1164.2,127.9 1167.9,111.1 1171.7,127.0 1175.4,114.6 1179.1,103.2 1182.8,101.7 1186.5,112.7 1190.3,120.6 1194.0,119.6 1197.7,120.3 1201.4,116.3 1205.1,119.0 1208.9,102.4 1212.6,111.3 1216.3,114.4 1220.0,111.2 1223.7,127.4 1227.5,120.7 1231.2,118.9 1234.9,110.0 1238.6,128.7 1242.3,116.8 1246.1,125.0 1249.8,105.1 1253.5,120.0 1257.2,129.5 1260.9,107.8 1264.7,119.6 1268.4,99.9 1272.1,105.2 1275.8,108.7 1279.5,112.2 1283.3,111.4 1287.0,117.3 1290.7,108.1 1294.4,113.2 1298.1,110.1 1301.9,110.7 1305.6,106.3 1309.3,105.9 1313.0,110.5 1316.7,108.5 1320.5,114.4 1324.2,132.7 1327.9,114.4 1331.6,121.1 1335.3,99.4 1339.1,103.9 1342.8,103.2 1346.5,105.5 1350.2,101.4 1353.9,110.3 1357.7,117.3 1361.4,122.4 1365.1,116.7 1368.8,103.9 1372.5,110.7 1376.3,117.7 1380.0,121.3 1383.7,112.0 1387.4,113.8 1391.1,108.5 1394.9,103.8 1398.6,111.1 1402.3,121.3 1406.0,111.3 1409.7,117.9 1413.5,113.8 1417.2,107.2 1420.9,111.9 1424.6,115.9 1428.3,107.3 1432.1,116.0 1435.8,128.8 1439.5,120.9 1443.2,112.3 1446.9,105.5 1450.7,110.5 1454.4,119.6 1458.1,113.7 1461.8,114.2 1465.5,117.1 1469.3,115.0 1473.0,121.0 1476.7,112.7 1480.4,127.3 1484.1,116.4 1487.9,114.1 1491.6,119.5 1495.3,123.9 1499.0,120.1 1502.7,111.6 1506.5,106.1 1510.2,136.6 1513.9,119.9 1517.6,107.9 1521.3,112.0 1525.1,110.9 1528.8,122.8 1532.5,117.1 1536.2,120.5 1539.9,117.7 1543.7,107.7 1547.4,122.8 1551.1,106.5 1554.8,99.3 1558.5,111.0 1562.3,104.1 1566.0,111.3 1569.7,113.3 1573.4,116.9 1577.1,117.7 1580.9,112.8 1584.6,98.5 1588.3,112.4 1592.0,114.8 1595.7,117.1 1599.5,105.4 1603.2,120.8 1606.9,105.2 1610.6,118.4 1614.3,104.4 1618.1,114.9 1621.8,123.3 1625.5,108.8 1629.2,120.3 1632.9,123.6 1636.7,108.4 1640.4,108.2 1644.1,101.3 1647.8,100.0 1651.5,112.0" fill="none" stroke="#d62728" stroke-width="2.08" stroke-opacity="0.5" stroke-linejoin="round" stroke-linecap="square"/>
<polyline points="918.7,96.4 922.4,100.8 926.1,85.2 929.9,83.1 933.6,61.3 937.3,77.6 941.0,79.9 944.7,89.9 948.5,98.2 952.2,87.6 955.9,94.3 959.6,87.7 963.3,77.9 967.1,86.0 970.8,86.6 974.5,96.4 978.2,89.6 981.9,90.9 985.7,91.4 989.4,102.1 993.1,99.5 996.8,82.7 1000.5,89.8 1004.3,85.8 1008.0,82.4 1011.7,84.0 1015.4,82.5 1019.1,76.7 1022.9,84.0 1026.6,83.4 1030.3,85.2 1034.0,92.9 1037.7,80.4 1041.5,86.9 1045.2,80.5 1048.9,83.1 1052.6,84.6 1056.3,82.1 1060.1,94.0 1063.8,90.2 1067.5,91.0 1071.2,96.9 1074.9,88.8 1078.7,73.9 1082.4,83.5 1086.1,88.0 1089.8,79.7 1093.5,87.1 1097.3,82.5 1101.0,82.6 1104.7,83.3 1108.4,84.0 1112.1,101.0 1115.9,91.3 1119.6,96.3 1123.3,82.2 1127.0,77.4 1130.7,77.6 1134.5,86.8 1138.2,96.4 1141.9,96.0 1145.6,76.7 1149.3,85.1 1153.1,79.7 1156.8,86.9 1160.5,74.9 1164.2,84.2 1167.9,88.2 1171.7,85.8 1175.4,83.5 1179.1,75.3 1182.8,78.6 1186.5,83.6 1190.3,83.8 1194.0,84.6 1197.7,94.9 1201.4,87.8 1205.1,52.8 1208.9,78.9 1212.6,78.0 1216.3,85.4 1220.0,80.4 1223.7,79.5 1227.5,75.5 1231.2,76.1 1234.9,73.1 1238.6,75.9 1242.3,81.2 1246.1,86.5 1249.8,85.9 1253.5,74.9 1257.2,54.1 1260.9,84.0 1264.7,74.8 1268.4,82.0 1272.1,80.4 1275.8,86.3 1279.5,78.2 1283.3,77.1 1287.0,83.4 1290.7,74.6 1294.4,88.9 1298.1,79.2 1301.9,87.8 1305.6,82.2 1309.3,71.2 1313.0,66.0 1316.7,78.1 1320.5,87.5 1324.2,85.7 1327.9,88.6 1331.6,68.1 1335.3,76.9 1339.1,92.3 1342.8,87.8 1346.5,85.5 1350.2,77.6 1353.9,81.4 1357.7,68.7 1361.4,71.5 1365.1,89.9 1368.8,86.1 1372.5,76.3 1376.3,71.0 1380.0,74.6 1383.7,81.5 1387.4,64.0 1391.1,58.7 1394.9,85.4 1398.6,80.0 1402.3,84.4 1406.0,75.8 1409.7,73.3 1413.5,62.9 1417.2,77.0 1420.9,80.2 1424.6,90.5 1428.3,72.9 1432.1,87.3 1435.8,82.2 1439.5,79.7 1443.2,72.9 1446.9,60.3 1450.7,88.1 1454.4,86.6 1458.1,87.8 1461.8,71.3 1465.5,72.7 1469.3,74.1 1473.0,62.3 1476.7,75.3 1480.4,73.4 1484.1,86.0 1487.9,75.2 1491.6,61.4 1495.3,70.4 1499.0,91.7 1502.7,80.9 1506.5,76.8 1510.2,80.6 1513.9,74.0 1517.6,72.3 1521.3,73.7 1525.1,84.9 1528.8,69.6 1532.5,80.7 1536.2,90.7 1539.9,78.8 1543.7,68.9 1547.4,73.3 1551.1,78.5 1554.8,82.3 1558.5,73.1 1562.3,68.2 1566.0,84.7 1569.7,70.8 1573.4,75.1 1577.1,88.2 1580.9,82.6 1584.6,80.8 1588.3,85.5 1592.0,86.1 1595.7,88.1 1599.5,78.1 1603.2,76.9 1606.9,73.9 1610.6,62.9 1614.3,73.7 1618.1,75.7 1621.8,84.2 1625.5,79.6 1629.2,86.8 1632.9,77.8 1636.7,78.9 1640.4,78.2 1644.1,71.4 1647.8,86.6 1651.5,71.2" fill="none" stroke="#d62728" stroke-width="2.08" stroke-opacity="0.5" stroke-linejoin="round" stroke-linecap="square"/>
<polyline points="918.7,111.5 922.4,112.9 926.1,105.2 929.9,104.6 933.6,93.9 937.3,94.8 941.0,98.2 944.7,103.9 948.5,103.6 952.2,107.1 955.9,106.6 959.6,105.2 963.3,98.9 967.1,98.0 970.8,106.1 974.5,103.1 978.2,98.9 981.9,106.9 985.7,107.7 989.4,109.7 993.1,105.8 996.8,102.7 1000.5,100.2 1004.3,98.7 1008.0,96.7 1011.7,98.3 1015.4,94.5 1019.1,92.7 1022.9,94.9 1026.6,103.3 1030.3,106.4 1034.0,102.2 1037.7,99.6 1041.5,101.4 1045.2,103.6 1048.9,102.7 1052.6,102.6 1056.3,100.2 1060.1,102.7 1063.8,111.5 1067.5,100.2 1071.2,112.7 1074.9,104.2 1078.7,97.7 1082.4,107.7 1086.1,100.2 1089.8,99.8 1093.5,107.7 1097.3,102.3 1101.0,96.4 1104.7,98.7 1108.4,102.7 1112.1,108.2 1115.9,101.5 1119.6,106.4 1123.3,95.6 1127.0,95.2 1130.7,99.7 1134.5,105.5 1138.2,110.2 1141.9,103.0 1145.6,100.4 1149.3,95.2 1153.1,92.0 1156.8,92.7 1160.5,97.1 1164.2,95.8 1167.9,97.7 1171.7,107.7 1175.4,97.6 1179.1,90.1 1182.8,92.0 1186.5,100.2 1190.3,105.2 1194.0,107.9 1197.7,111.5 1201.4,99.9 1205.1,85.1 1208.9,89.3 1212.6,94.0 1216.3,100.2 1220.0,93.9 1223.7,92.7 1227.5,96.1 1231.2,93.9 1234.9,95.6 1238.6,100.3 1242.3,100.2 1246.1,100.4 1249.8,97.7 1253.5,89.5 1257.2,91.4 1260.9,97.7 1264.7,92.6 1268.4,92.7 1272.1,95.5 1275.8,96.4 1279.5,97.0 1283.3,97.3 1287.0,98.9 1290.7,94.5 1294.4,101.4 1298.1,88.9 1301.9,98.8 1305.6,100.2 1309.3,89.3 1313.0,91.8 1316.7,93.9 1320.5,99.3 1324.2,105.0 1327.9,102.7 1331.6,95.3 1335.3,92.7 1339.1,97.7 1342.8,94.6 1346.5,92.7 1350.2,90.1 1353.9,98.9 1357.7,93.3 1361.4,93.9 1365.1,102.7 1368.8,95.9 1372.5,93.9 1376.3,94.6 1380.0,97.1 1383.7,92.7 1387.4,91.6 1391.1,86.4 1394.9,93.9 1398.6,91.9 1402.3,98.9 1406.0,92.7 1409.7,92.2 1413.5,97.7 1417.2,91.4 1420.9,95.7 1424.6,102.7 1428.3,85.1 1432.1,98.9 1435.8,98.5 1439.5,101.4 1443.2,88.9 1446.9,87.6 1450.7,93.6 1454.4,96.6 1458.1,100.2 1461.8,95.8 1465.5,95.2 1469.3,95.8 1473.0,91.9 1476.7,91.4 1480.4,93.9 1484.1,97.7 1487.9,85.1 1491.6,93.9 1495.3,96.6 1499.0,102.7 1502.7,95.9 1506.5,96.4 1510.2,95.8 1513.9,90.1 1517.6,91.3 1521.3,97.7 1525.1,96.0 1528.8,101.1 1532.5,98.9 1536.2,105.2 1539.9,101.4 1543.7,95.2 1547.4,96.2 1551.1,97.7 1554.8,93.9 1558.5,90.2 1562.3,83.9 1566.0,100.2 1569.7,93.9 1573.4,96.2 1577.1,100.2 1580.9,94.3 1584.6,91.4 1588.3,95.9 1592.0,100.2 1595.7,99.5 1599.5,93.9 1603.2,92.7 1606.9,89.3 1610.6,91.4 1614.3,92.7 1618.1,92.3 1621.8,97.7 1625.5,93.9 1629.2,101.1 1632.9,98.9 1636.7,90.1 1640.4,91.4 1644.1,93.4 1647.8,93.9 1651.5,90.1" fill="none" stroke="#d62728" stroke-width="5.0" stroke-opacity="1" stroke-linejoin="round" stroke-linecap="square"/>
</g>
<rect x="184.5" y="46.5" width="1488.0" height="670.0" fill="none" stroke="#000" stroke-width="3" stroke-linejoin="miter"/>
<line x1="184.5" x2="184.5" y1="716.0" y2="730.58" stroke="#000" stroke-width="3"/>
<text x="184.00" y="777.4" font-size="41.67" text-anchor="middle">0</text>
<line x1="370.5" x2="370.5" y1="716.0" y2="730.58" stroke="#000" stroke-width="3"/>
<text x="370.00" y="777.4" font-size="41.67" text-anchor="middle">1</text>
<line x1="556.5" x2="556.5" y1="716.0" y2="730.58" stroke="#000" stroke-width="3"/>
<text x="556.00" y="777.4" font-size="41.67" text-anchor="middle">2</text>
<line x1="742.5" x2="742.5" y1="716.0" y2="730.58" stroke="#000" stroke-width="3"/>
<text x="742.00" y="777.4" font-size="41.67" text-anchor="middle">3</text>
<line x1="928.5" x2="928.5" y1="716.0" y2="730.58" stroke="#000" stroke-width="3"/>
<text x="928.00" y="777.4" font-size="41.67" text-anchor="middle">4</text>
<line x1="1114.5" x2="1114.5" y1="716.0" y2="730.58" stroke="#000" stroke-width="3"/>
<text x="1114.00" y="777.4" font-size="41.67" text-anchor="middle">5</text>
<line x1="1300.5" x2="1300.5" y1="716.0" y2="730.58" stroke="#000" stroke-width="3"/>
<text x="1300.00" y="777.4" font-size="41.67" text-anchor="middle">6</text>
<line x1="1486.5" x2="1486.5" y1="716.0" y2="730.58" stroke="#000" stroke-width="3"/>
<text x="1486.00" y="777.4" font-size="41.67" text-anchor="middle">7</text>
<line x1="1672.5" x2="1672.5" y1="716.0" y2="730.58" stroke="#000" stroke-width="3"/>
<text x="1672.00" y="777.4" font-size="41.67" text-anchor="middle">8</text>
<line x1="169.42" x2="184.0" y1="716.5" y2="716.5" stroke="#000" stroke-width="3"/>
<text x="154.6" y="731.80" font-size="41.67" text-anchor="end">0.0</text>
<line x1="169.42" x2="184.0" y1="381.5" y2="381.5" stroke="#000" stroke-width="3"/>
<text x="154.6" y="396.80" font-size="41.67" text-anchor="end">0.5</text>
<line x1="169.42" x2="184.0" y1="46.5" y2="46.5" stroke="#000" stroke-width="3"/>
<text x="154.6" y="61.80" font-size="41.67" text-anchor="end">1.0</text>
<text x="928.6" y="837" font-size="41.67" text-anchor="middle">Steps</text>
<text x="1671.6" y="833.2" font-size="41.67" text-anchor="end">1e6</text>
<text transform="translate(63,381.3) rotate(-90)" font-size="41.67" text-anchor="middle">Success rate</text>
<rect x="243.2" y="879.3" width="1433.2" height="112.3" rx="6.9" ry="6.9" fill="#ffffff" fill-opacity="0.8" stroke="#cccccc" stroke-opacity="0.8" stroke-width="4.17"/>
<line x1="257.3" x2="326.7" y1="907.3" y2="907.3" stroke="#1f77b4" stroke-width="5.0" stroke-linecap="square"/>
<text x="353.3" y="920.0" font-size="34.72" letter-spacing="0.12">Shaped</text>
<line x1="257.3" x2="326.7" y1="959.5" y2="959.5" stroke="#d62728" stroke-width="5.0" stroke-dasharray="18.50,8.00"/>
<text x="353.3" y="972.2" font-size="34.72" letter-spacing="0.12">Sparse, simplified</text>
<line x1="733.4" x2="802.8" y1="907.3" y2="907.3" stroke="#ff7f0e" stroke-width="5.0" stroke-linecap="square"/>
<text x="829.4" y="920.0" font-size="34.72" letter-spacing="0.12">Shaped, curriculum</text>
<line x1="733.4" x2="802.8" y1="959.5" y2="959.5" stroke="#d62728" stroke-width="5.0" stroke-linecap="square"/>
<text x="829.4" y="972.2" font-size="34.72" letter-spacing="0.12">Sparse, warm-start</text>
<line x1="1239.4" x2="1308.8" y1="907.3" y2="907.3" stroke="#2ca02c" stroke-width="5.0" stroke-linecap="square"/>
<text x="1335.4" y="920.0" font-size="34.72" letter-spacing="0.12">Sparse, curriculum</text>
</svg>
</body></html>
